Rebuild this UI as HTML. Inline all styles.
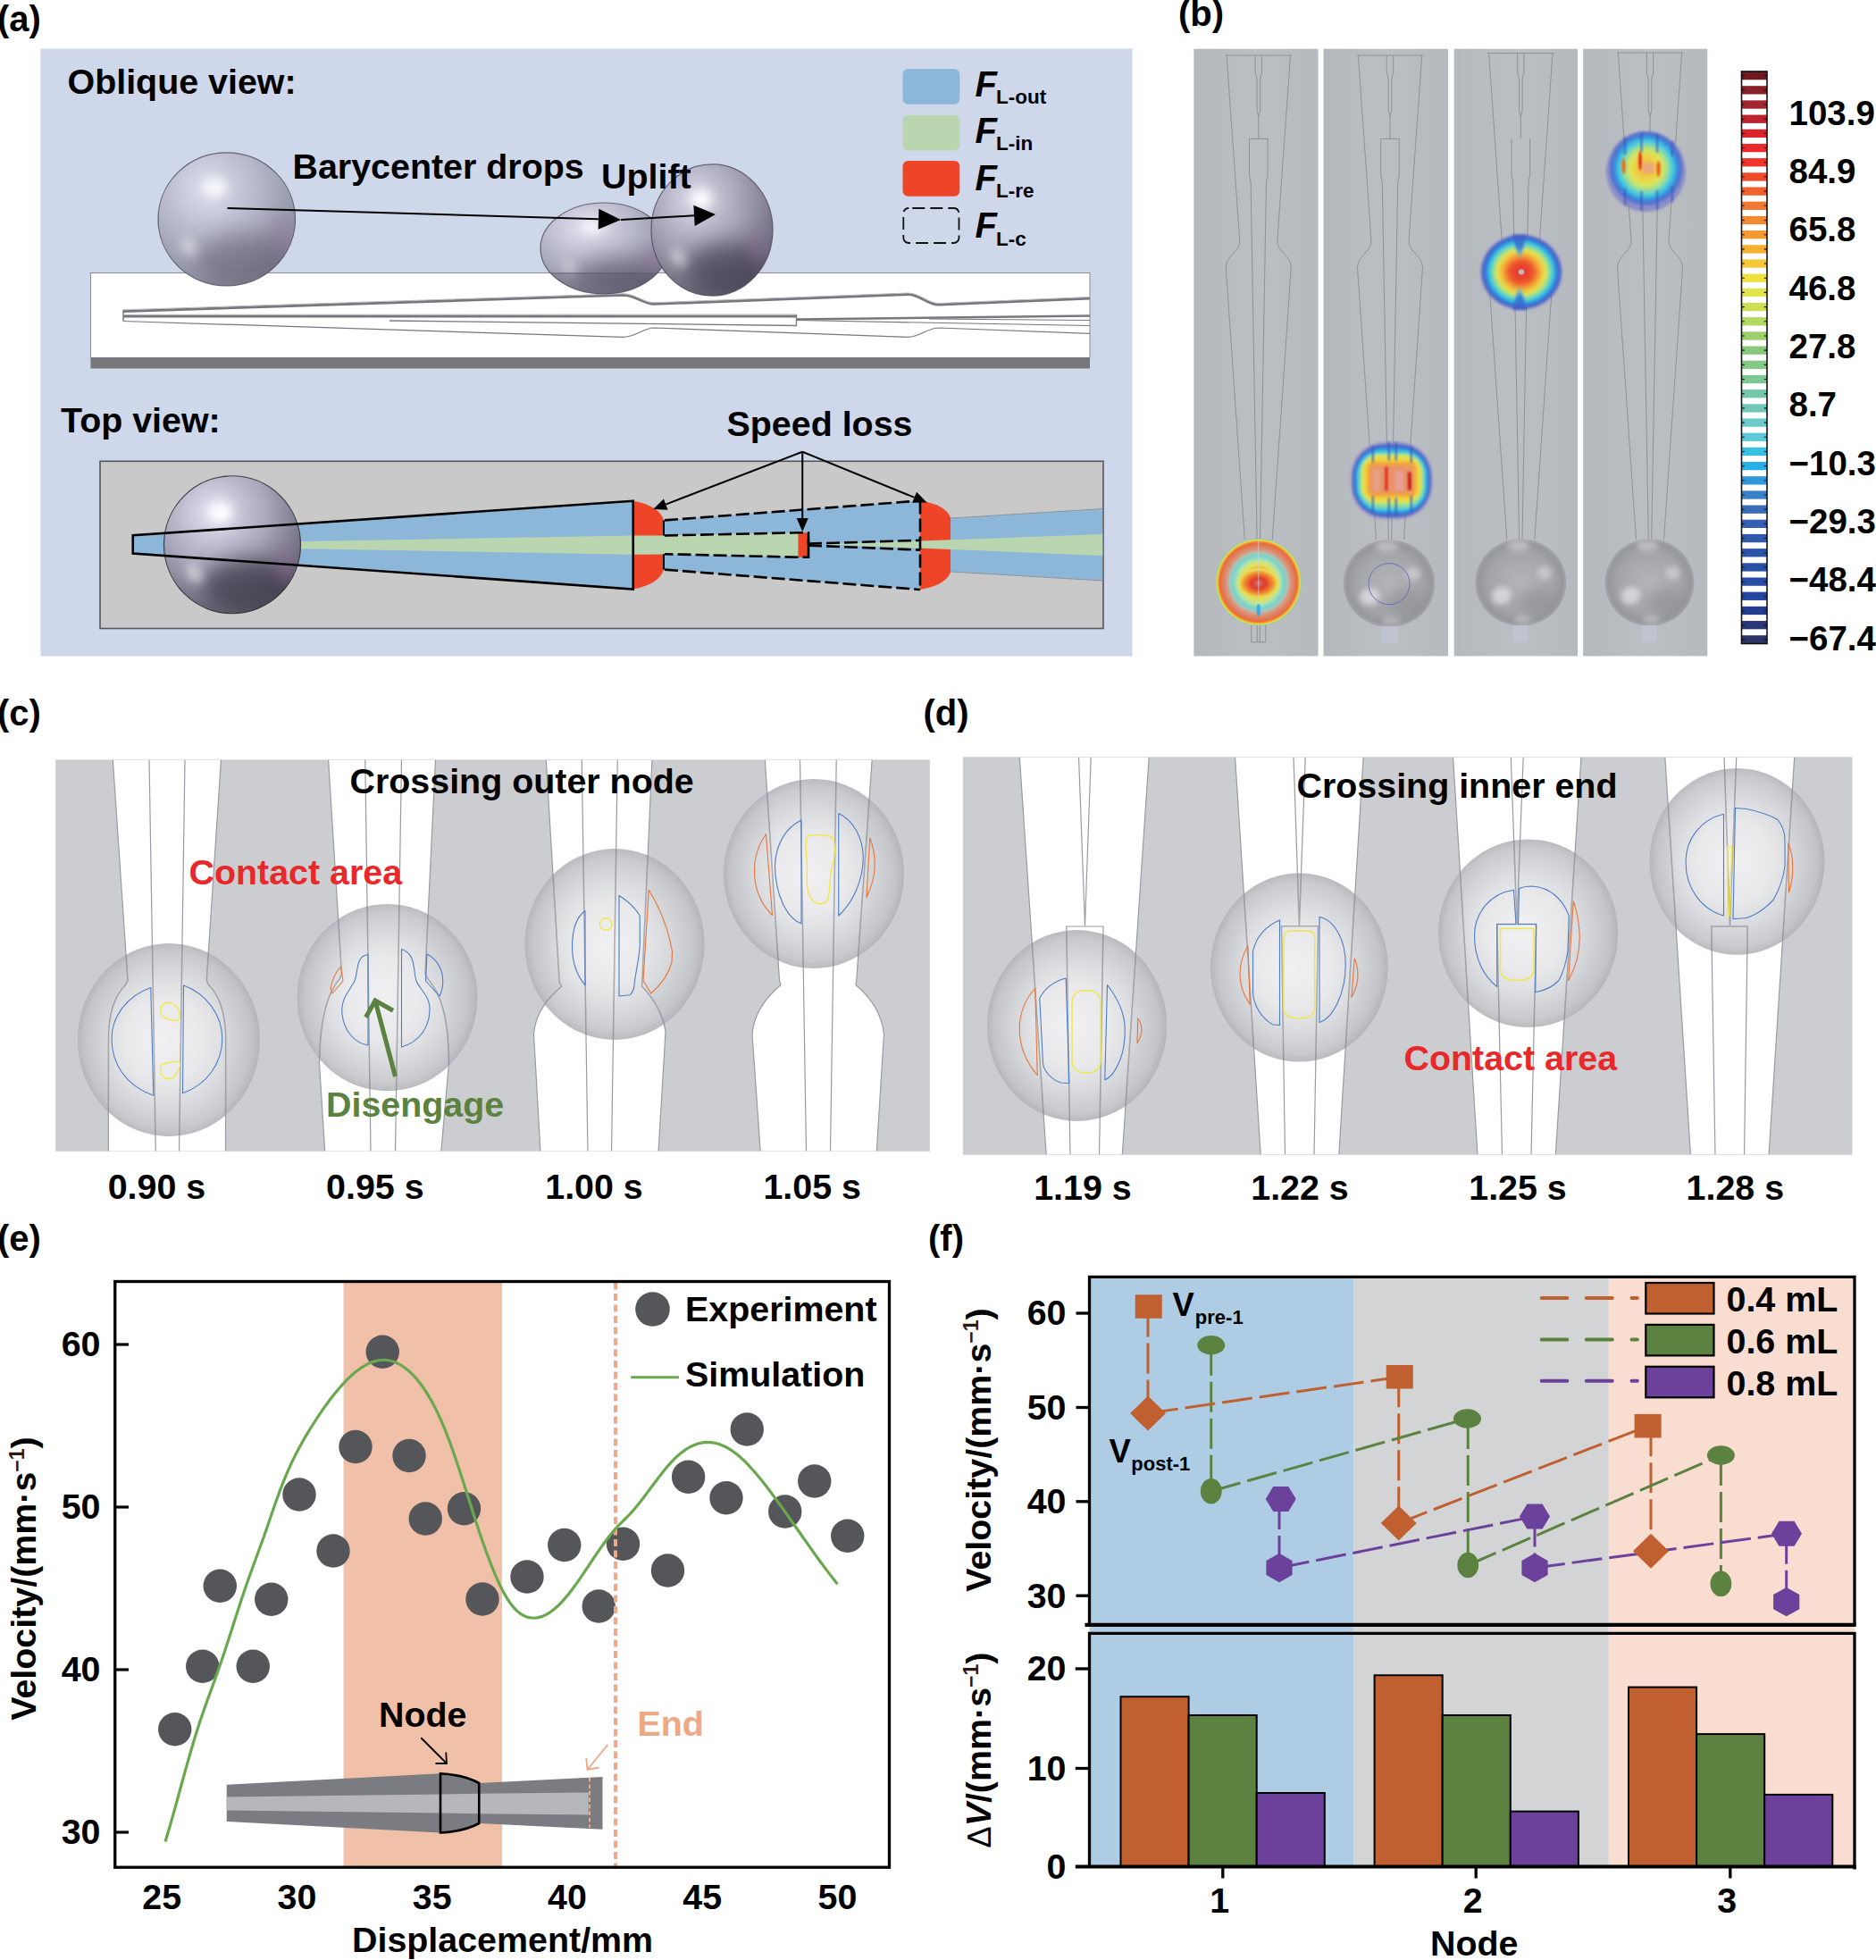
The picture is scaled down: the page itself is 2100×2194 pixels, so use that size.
<!DOCTYPE html>
<html><head><meta charset="utf-8"><title>Figure</title>
<style>
html,body{margin:0;padding:0;background:#fff;}
svg{display:block;}
text{font-family:"Liberation Sans",sans-serif;font-weight:bold;}
</style></head><body>
<svg width="2100" height="2194" viewBox="0 0 2100 2194">
<defs>
<filter id="blur1" x="-50%" y="-50%" width="200%" height="200%"><feGaussianBlur stdDeviation="1"/></filter>
<filter id="blur15" x="-20%" y="-20%" width="140%" height="140%"><feGaussianBlur stdDeviation="1.6"/></filter>
<filter id="blur3" x="-50%" y="-50%" width="200%" height="200%"><feGaussianBlur stdDeviation="3"/></filter>
<filter id="blur6" x="-100%" y="-100%" width="300%" height="300%"><feGaussianBlur stdDeviation="6"/></filter>
<filter id="blur8" x="-100%" y="-100%" width="300%" height="300%"><feGaussianBlur stdDeviation="8"/></filter>
<filter id="blur12" x="-100%" y="-100%" width="300%" height="300%"><feGaussianBlur stdDeviation="12"/></filter>
</defs>
<rect x="0" y="0" width="2100" height="2194" fill="#fff"/>
<g id="pa">
<rect x="45.5" y="54.5" width="1222" height="680.1" fill="#cfd8ea"/>
<text x="-3" y="34.7" font-size="40" text-anchor="start" fill="#000" >(a)</text>
<text x="75.5" y="104.5" font-size="39.4" text-anchor="start" fill="#000" >Oblique view:</text>
<text x="68" y="483.8" font-size="39.4" text-anchor="start" fill="#000" >Top view:</text>
<rect x="101.5" y="305.5" width="1118.5" height="95" fill="#fff" stroke="#8a8b90" stroke-width="1"/>
<rect x="101.5" y="400" width="1118.5" height="12.5" fill="#76777b"/>
<path d="M138 348.5 L697 330.3 C712 330.3 720 340.3 732 340.3 L1016.4 329.5 C1030 329.5 1038 341 1051 341 L1220 334" fill="none" stroke="#77787d" stroke-width="3"/>
<path d="M138 346.8 L697 328.8 C712 328.8 720 338.8 732 338.8 L1016.4 328 C1030 328 1038 339.5 1051 339.5 L1220 332.5" fill="none" stroke="#b9babd" stroke-width="1"/>
<path d="M138 347 V359.5" stroke="#77787d" stroke-width="1.5" fill="none"/>
<path d="M138 354 L891.5 354" stroke="#77787d" stroke-width="3" fill="none"/>
<path d="M138 352.3 L891.5 352" stroke="#b5b6ba" stroke-width="1" fill="none"/>
<path d="M436 359 L891.5 364.5 V352" stroke="#77787d" stroke-width="1.3" fill="none"/>
<path d="M891.5 357.5 L1220 353.5" stroke="#77787d" stroke-width="2.6" fill="none"/>
<path d="M891.5 358.5 L1220 364.5" stroke="#77787d" stroke-width="1.2" fill="none"/>
<path d="M1040 357 L1220 358.5" stroke="#77787d" stroke-width="1.2" fill="none"/>
<path d="M138 359.5 L697 377.4 C712 377.4 720 367 732 367 L1016 377.4 C1030 377.4 1038 367 1051 367 L1220 373.3" fill="none" stroke="#77787d" stroke-width="1.2"/>
<defs>
<radialGradient id="s1g" cx="0.38" cy="0.30" r="0.85" fx="0.36" fy="0.26"><stop offset="0" stop-color="#dfe0ee"/><stop offset="0.45" stop-color="#b4b5c8"/><stop offset="1" stop-color="#7d7d90"/></radialGradient>
<clipPath id="s1c"><ellipse cx="253.75" cy="245.4" rx="76.75" ry="74.6"/></clipPath>
</defs>
<ellipse cx="253.75" cy="245.4" rx="76.75" ry="74.6" fill="url(#s1g)"/>
<g clip-path="url(#s1c)">
<ellipse cx="272.94" cy="291.65" rx="53.72" ry="31.33" fill="#3c3846" opacity="0.35" filter="url(#blur12)"/>
<ellipse cx="313.62" cy="264.05" rx="13.81" ry="22.38" fill="#8a6c96" opacity="0.35" filter="url(#blur8)"/>
<ellipse cx="240.7" cy="210.34" rx="13.05" ry="11.19" fill="#fff" opacity="0.8" filter="url(#blur6)"/>
<ellipse cx="211.54" cy="276.73" rx="7.68" ry="11.94" fill="#fff" opacity="0.44" filter="url(#blur6)" transform="rotate(-35 211.54 276.73)"/>
</g>
<ellipse cx="253.75" cy="245.4" rx="76.75" ry="74.6" fill="none" stroke="#4a4a5a" stroke-width="1.2" opacity="0.8"/>
<defs>
<radialGradient id="s2g" cx="0.38" cy="0.30" r="0.85" fx="0.36" fy="0.26"><stop offset="0" stop-color="#e2e2f0"/><stop offset="0.45" stop-color="#b6b6c9"/><stop offset="1" stop-color="#77758a"/></radialGradient>
<clipPath id="s2c"><ellipse cx="676" cy="278" rx="71" ry="51"/></clipPath>
</defs>
<ellipse cx="676" cy="278" rx="71" ry="51" fill="url(#s2g)"/>
<g clip-path="url(#s2c)">
<ellipse cx="693.75" cy="309.62" rx="49.7" ry="21.42" fill="#3c3846" opacity="0.45" filter="url(#blur12)"/>
<ellipse cx="731.38" cy="290.75" rx="12.78" ry="15.3" fill="#8a6c96" opacity="0.35" filter="url(#blur8)"/>
<ellipse cx="663.93" cy="254.03" rx="12.07" ry="7.65" fill="#fff" opacity="0.75" filter="url(#blur6)"/>
<ellipse cx="636.95" cy="299.42" rx="7.1" ry="8.16" fill="#fff" opacity="0.41" filter="url(#blur6)" transform="rotate(-35 636.95 299.42)"/>
</g>
<ellipse cx="676" cy="278" rx="71" ry="51" fill="none" stroke="#4a4a5a" stroke-width="1.2" opacity="0.8"/>
<g clip-path="url(#s2c)"><rect x="600" y="305.8" width="150" height="30" fill="#4a4658" opacity="0.22"/><path d="M600 305.8 H750" stroke="#5d5b6c" stroke-width="1.2" opacity="0.75"/></g>
<defs>
<radialGradient id="s3g" cx="0.38" cy="0.30" r="0.85" fx="0.36" fy="0.26"><stop offset="0" stop-color="#dcdcec"/><stop offset="0.45" stop-color="#a3a2b5"/><stop offset="1" stop-color="#575365"/></radialGradient>
<clipPath id="s3c"><ellipse cx="797" cy="257.5" rx="68" ry="73.6"/></clipPath>
</defs>
<ellipse cx="797" cy="257.5" rx="68" ry="73.6" fill="url(#s3g)"/>
<g clip-path="url(#s3c)">
<ellipse cx="814" cy="303.13" rx="47.6" ry="30.91" fill="#3c3846" opacity="0.65" filter="url(#blur12)"/>
<ellipse cx="850.04" cy="275.9" rx="12.24" ry="22.08" fill="#8a6c96" opacity="0.35" filter="url(#blur8)"/>
<ellipse cx="785.44" cy="222.91" rx="11.56" ry="11.04" fill="#fff" opacity="0.95" filter="url(#blur6)"/>
<ellipse cx="759.6" cy="288.41" rx="6.8" ry="11.78" fill="#fff" opacity="0.52" filter="url(#blur6)" transform="rotate(-35 759.6 288.41)"/>
</g>
<ellipse cx="797" cy="257.5" rx="68" ry="73.6" fill="none" stroke="#4a4a5a" stroke-width="1.2" opacity="0.8"/>
<path d="M254.5 233 L670.01 245.26" stroke="#000" stroke-width="2" fill="none"/>
<polygon points="695,246 669.67,256.76 670.35,233.77" fill="#000"/>
<path d="M695 246 L777.04 241.36" stroke="#000" stroke-width="2" fill="none"/>
<polygon points="801,240 777.7,253.09 776.37,229.63" fill="#000"/>
<text x="327.5" y="199.5" font-size="39.4" text-anchor="start" fill="#000" >Barycenter drops</text>
<text x="673" y="210.5" font-size="39.4" text-anchor="start" fill="#000" >Uplift</text>
<rect x="1010.5" y="77" width="63.8" height="39.7" rx="6" fill="#8db7d9"/>
<rect x="1010.5" y="128.7" width="63.8" height="39.7" rx="6" fill="#b9d6b0"/>
<rect x="1010.5" y="180" width="63.8" height="39.7" rx="6" fill="#ee4529"/>
<rect x="1011.3" y="233" width="62.2" height="39" rx="6" fill="none" stroke="#111" stroke-width="1.8" stroke-dasharray="14 6" stroke-dashoffset="-4"/>
<text x="1091.5" y="107.5" font-size="40" font-style="italic">F<tspan font-style="normal" font-size="22.5" dx="-1" dy="8.3">L-out</tspan></text>
<text x="1091.5" y="159.7" font-size="40" font-style="italic">F<tspan font-style="normal" font-size="22.5" dx="-1" dy="8.3">L-in</tspan></text>
<text x="1091.5" y="212.5" font-size="40" font-style="italic">F<tspan font-style="normal" font-size="22.5" dx="-1" dy="8.3">L-re</tspan></text>
<text x="1091.5" y="266.2" font-size="40" font-style="italic">F<tspan font-style="normal" font-size="22.5" dx="-1" dy="8.3">L-c</tspan></text>
<rect x="112" y="516.3" width="1123" height="187.2" fill="#c9c9c9" stroke="#55565a" stroke-width="1.6"/>
<polygon points="148.75,599.25 708.75,560.75 708.75,659.5 148.75,619.5" fill="#8db7d9"/>
<polygon points="200,608.5 708.75,599.5 708.75,620.75 200,611.7" fill="#b9d6b0"/>
<path d="M708.75 560.75 Q738 566 743 582.5 L743 637.5 Q738 654 708.75 659.5 Z" fill="#ee4529"/>
<polygon points="706,599.5 744,599.5 744,620.4 706,620.75" fill="#b9d6b0"/>
<polygon points="743,582.5 1030,560.5 1030,660 743,637.5" fill="#8db7d9"/>
<polygon points="743,599.5 893.75,596.25 893.75,623.75 743,620.2" fill="#b9d6b0"/>
<rect x="893.5" y="596.25" width="11.5" height="27.5" fill="#ee4529"/>
<path d="M1030 560.5 Q1059 565 1064.25 580 L1064.25 640 Q1059 655 1030 660 Z" fill="#ee4529"/>
<polygon points="1064.25,580 1234.2,569.5 1234.2,650 1064.25,640" fill="#8db7d9"/>
<polygon points="922,609.3 1234.2,598 1234.2,622" fill="#b9d6b0"/>
<path d="M1064.25 580 L1234 569.5 M1064.25 640 L1234 650" stroke="#8a8a8a" stroke-width="0.8" fill="none"/>
<defs>
<radialGradient id="s4g" cx="0.38" cy="0.30" r="0.85" fx="0.36" fy="0.26"><stop offset="0" stop-color="#e4e4f4"/><stop offset="0.45" stop-color="#a9a8bc"/><stop offset="1" stop-color="#514c5c"/></radialGradient>
<clipPath id="s4c"><ellipse cx="260" cy="609.75" rx="76.5" ry="77"/></clipPath>
</defs>
<ellipse cx="260" cy="609.75" rx="76.5" ry="77" fill="url(#s4g)"/>
<g clip-path="url(#s4c)">
<ellipse cx="279.12" cy="657.49" rx="53.55" ry="32.34" fill="#3c3846" opacity="0.75" filter="url(#blur12)"/>
<ellipse cx="319.67" cy="629" rx="13.77" ry="23.1" fill="#8a6c96" opacity="0.35" filter="url(#blur8)"/>
<ellipse cx="247" cy="573.56" rx="13.01" ry="11.55" fill="#fff" opacity="1" filter="url(#blur6)"/>
<ellipse cx="217.93" cy="642.09" rx="7.65" ry="12.32" fill="#fff" opacity="0.55" filter="url(#blur6)" transform="rotate(-35 217.93 642.09)"/>
</g>
<ellipse cx="260" cy="609.75" rx="76.5" ry="77" fill="none" stroke="#222" stroke-width="1.2" opacity="0.8"/>
<path d="M708.75 560.75 L148.75 599.25 V619.5 L708.75 659.5 Z" fill="none" stroke="#000" stroke-width="2.6" stroke-linejoin="miter"/>
<path d="M744 582.4 L1030 560.5" stroke="#000" stroke-width="2.6" fill="none" stroke-dasharray="15 5"/>
<path d="M744 637.6 L1030 660" stroke="#000" stroke-width="2.6" fill="none" stroke-dasharray="15 5"/>
<path d="M1030 560.5 V660" stroke="#000" stroke-width="2.6" fill="none" stroke-dasharray="15 5"/>
<path d="M743 582.5 V599.5 M743 620.2 V637.5" stroke="#000" stroke-width="2" fill="none"/>
<path d="M744 599.5 L893.75 596.25 H905 V623.75 H893.75 L744 620.2" stroke="#000" stroke-width="2.6" fill="none" stroke-dasharray="15 5"/>
<path d="M905 608.6 L1030 604.8" stroke="#000" stroke-width="2.6" fill="none" stroke-dasharray="15 5"/>
<path d="M905 610.6 L1030 615.6" stroke="#000" stroke-width="2.6" fill="none" stroke-dasharray="15 5"/>
<path d="M905 603 V616" stroke="#000" stroke-width="2.6"/>
<text x="813.5" y="487.5" font-size="39.4" text-anchor="start" fill="#000" >Speed loss</text>
<path d="M898.25 505.75 L745.25 564.61" stroke="#000" stroke-width="2" fill="none"/>
<polygon points="731.25,570 742.92,558.55 747.58,570.68" fill="#000"/>
<path d="M898.25 505.75 L898.25 580" stroke="#000" stroke-width="2" fill="none"/>
<polygon points="898.25,595 891.75,580 904.75,580" fill="#000"/>
<path d="M898.25 505.75 L1023.61 556.84" stroke="#000" stroke-width="2" fill="none"/>
<polygon points="1037.5,562.5 1021.16,562.86 1026.06,550.82" fill="#000"/>
</g>
<g id="pb">
<text x="1319" y="29" font-size="40" text-anchor="start" fill="#000" >(b)</text>
<defs><linearGradient id="colg" x1="0" x2="1" y1="0" y2="0"><stop offset="0" stop-color="#b5b9be"/><stop offset="0.5" stop-color="#bbbec3"/><stop offset="1" stop-color="#b6babf"/></linearGradient></defs>
<rect x="1336.4" y="54.7" width="139.2" height="679.7" fill="url(#colg)"/>
<rect x="1481.5" y="54.7" width="139.5" height="679.7" fill="url(#colg)"/>
<rect x="1627.6" y="54.7" width="138.4" height="679.7" fill="url(#colg)"/>
<rect x="1772.2" y="54.7" width="139.1" height="679.7" fill="url(#colg)"/>
<path d="M1371.6 62 H1446 M1373.1 62 L1387.8 270 C1387.8 282 1372.3 286 1372.3 300 L1393.3 604 M1444.5 62 L1429.8 270 C1429.8 282 1445.3 286 1445.3 300 L1424.3 604" fill="none" stroke="#8b8c91" stroke-width="0.9"/>
<path d="M1405.1 62 V81 L1407 88 V124 L1408.8 130 V155 M1412.5 62 V81 L1410.6 88 V124 L1408.8 130" fill="none" stroke="#8b8c91" stroke-width="0.9"/>
<path d="M1398.5 196 V155.4 H1419.1 V196" fill="none" stroke="#8b8c91" stroke-width="0.9"/>
<path d="M1398.5 196 L1400.1 204 L1407.1 604 M1419.1 196 L1417.5 204 L1410.5 604" fill="none" stroke="#8b8c91" stroke-width="0.9"/>
<path d="M1400.8 700 V718.8 H1416.8 V700 M1407.3 700 V718.8 M1410.3 700 V718.8" fill="none" stroke="#8b8c91" stroke-width="0.9"/>
<defs><radialGradient id="b1g" cx="0.5" cy="0.5" r="0.5"><stop offset="0" stop-color="#d07070"/><stop offset="0.18" stop-color="#e8402a"/><stop offset="0.3" stop-color="#f09a30"/><stop offset="0.4" stop-color="#eee050"/><stop offset="0.5" stop-color="#b4e4a8"/><stop offset="0.6" stop-color="#78d4cc"/><stop offset="0.68" stop-color="#a8c4b8"/><stop offset="0.74" stop-color="#dc9880"/><stop offset="0.84" stop-color="#de7c5c"/><stop offset="0.9" stop-color="#ea6c38"/><stop offset="0.94" stop-color="#f2a238"/><stop offset="0.97" stop-color="#e6e04c"/><stop offset="1" stop-color="#74d4a4"/></radialGradient></defs>
<ellipse cx="1408.8" cy="651.7" rx="48" ry="48.7" fill="url(#b1g)"/>
<defs><radialGradient id="b1c" cx="0.5" cy="0.5" r="0.5"><stop offset="0" stop-color="#cf7a76"/><stop offset="0.3" stop-color="#e23a2c"/><stop offset="0.6" stop-color="#ee8a30"/><stop offset="0.82" stop-color="#ecdc50"/><stop offset="1" stop-color="#b4e4a8" stop-opacity="0"/></radialGradient></defs>
<ellipse cx="1408.8" cy="653" rx="26" ry="19" fill="url(#b1c)"/>
<path d="M1408.8 604 V668" stroke="#cfd0d4" stroke-width="1" opacity="0.7"/>
<ellipse cx="1408.8" cy="683" rx="2.2" ry="7" fill="#30a8e8" opacity="0.9"/>
<path d="M1518.8 62 H1593.2 M1520.3 62 L1535 270 C1535 282 1519.5 286 1519.5 300 L1540.5 604 M1591.7 62 L1577 270 C1577 282 1592.5 286 1592.5 300 L1571.5 604" fill="none" stroke="#8b8c91" stroke-width="0.9"/>
<path d="M1552.3 62 V81 L1554.2 88 V124 L1556 130 V155 M1559.7 62 V81 L1557.8 88 V124 L1556 130" fill="none" stroke="#8b8c91" stroke-width="0.9"/>
<path d="M1545.7 196 V155.4 H1566.3 V196" fill="none" stroke="#8b8c91" stroke-width="0.9"/>
<path d="M1545.7 196 L1547.3 204 L1554.3 604 M1566.3 196 L1564.7 204 L1557.7 604" fill="none" stroke="#8b8c91" stroke-width="0.9"/>
<g filter="url(#blur15)">
<rect x="1511.8" y="494.5" width="92" height="87" rx="38" ry="38" fill="#8886cc" opacity="0.55"/>
<rect x="1513.8" y="497" width="88" height="82" rx="36" ry="36" fill="#4a5cc4" opacity="0.9"/>
<rect x="1516.3" y="500.5" width="83" height="75" rx="32" ry="32" fill="#2e86dc" opacity="1"/>
<rect x="1518.8" y="503.5" width="78" height="69" rx="28" ry="28" fill="#36c4e4" opacity="1"/>
<rect x="1521.3" y="507" width="73" height="62" rx="24" ry="24" fill="#86dca0" opacity="1"/>
<rect x="1523.8" y="509" width="68" height="55" rx="19" ry="19" fill="#d8e458" opacity="1"/>
<rect x="1526.8" y="513" width="62" height="47" rx="13" ry="13" fill="#f2d040" opacity="1"/>
<rect x="1530.3" y="517" width="55" height="39" rx="7" ry="7" fill="#f2a638" opacity="1"/>
<rect x="1533.8" y="521" width="48" height="31" rx="4" ry="4" fill="#e89468" opacity="1"/>
</g>
<g filter="url(#blur1)">
<rect x="1550.3" y="522.5" width="3.2" height="27" fill="#e02a1c"/>
<rect x="1575.8" y="528.5" width="4" height="20" fill="#c8201a"/>
<rect x="1561.8" y="527.5" width="9" height="22" fill="#eba0a0" opacity="0.8"/>
<rect x="1536.8" y="525.5" width="8" height="24" fill="#e8a88c" opacity="0.7"/>
</g>
<defs><radialGradient id="g2g" cx="0.5" cy="0.5" r="0.5"><stop offset="0" stop-color="#b4b5b8"/><stop offset="0.7" stop-color="#a4a5a9"/><stop offset="0.92" stop-color="#97989c"/><stop offset="1" stop-color="#a6a7ab"/></radialGradient><clipPath id="g2c"><ellipse cx="1555" cy="653" rx="51.4" ry="49"/></clipPath></defs>
<ellipse cx="1555" cy="653" rx="51.4" ry="49" fill="url(#g2g)"/>
<g clip-path="url(#g2c)">
<ellipse cx="1533.41" cy="667.7" rx="11.31" ry="9.8" fill="#dcdcdf" opacity="0.85" filter="url(#blur3)" transform="rotate(-20 1533.41 667.7)"/>
<ellipse cx="1581.73" cy="642.22" rx="8.22" ry="7.84" fill="#d0d0d4" opacity="0.8" filter="url(#blur3)"/>
<ellipse cx="1552.43" cy="611.35" rx="12.85" ry="5.88" fill="#c8c8cc" opacity="0.8" filter="url(#blur3)"/>
<ellipse cx="1557.57" cy="694.65" rx="10.28" ry="4.9" fill="#c4c4c8" opacity="0.7" filter="url(#blur3)"/>
<ellipse cx="1572.99" cy="675.05" rx="20.56" ry="14.7" fill="#88898d" opacity="0.45" filter="url(#blur6)"/>
</g>
<circle cx="1555" cy="653.6" r="23" fill="none" stroke="#6a6cc4" stroke-width="1"/>
<rect x="1546" y="701" width="19" height="19.5" fill="#c0c6d2" opacity="0.8"/>
<path d="M1665.1 59.5 H1739.5 M1666.6 59.5 L1681.3 270 C1681.3 282 1665.8 286 1665.8 300 L1686.8 604 M1738 59.5 L1723.3 270 C1723.3 282 1738.8 286 1738.8 300 L1717.8 604" fill="none" stroke="#8b8c91" stroke-width="0.9"/>
<path d="M1698.6 59.5 V81 L1700.5 88 V124 L1702.3 130 V155 M1706 59.5 V81 L1704.1 88 V124 L1702.3 130" fill="none" stroke="#8b8c91" stroke-width="0.9"/>
<path d="M1692 196 V155.4 M1712.6 155.4 V196" fill="none" stroke="#8b8c91" stroke-width="0.9"/>
<path d="M1692 196 L1693.6 204 L1700.6 604 M1712.6 196 L1711 204 L1704 604" fill="none" stroke="#8b8c91" stroke-width="0.9"/>
<defs><radialGradient id="b3g" cx="0.5" cy="0.5" r="0.5"><stop offset="0" stop-color="#d88a8a"/><stop offset="0.1" stop-color="#e23a30"/><stop offset="0.3" stop-color="#ee5a2c"/><stop offset="0.44" stop-color="#f4a838"/><stop offset="0.58" stop-color="#e6e44c"/><stop offset="0.68" stop-color="#8ede98"/><stop offset="0.78" stop-color="#34c4e6"/><stop offset="0.87" stop-color="#3078d8"/><stop offset="0.95" stop-color="#5060c4"/><stop offset="1" stop-color="#8c8acc" stop-opacity="0.5"/></radialGradient><linearGradient id="b3n" x1="0" x2="0" y1="0" y2="1"><stop offset="0" stop-color="#4458c0"/><stop offset="0.55" stop-color="#2e86dc"/><stop offset="1" stop-color="#38c8e4" stop-opacity="0"/></linearGradient><linearGradient id="b3m" x1="0" x2="0" y1="1" y2="0"><stop offset="0" stop-color="#4458c0"/><stop offset="0.55" stop-color="#2e86dc"/><stop offset="1" stop-color="#38c8e4" stop-opacity="0"/></linearGradient></defs>
<g filter="url(#blur15)">
<ellipse cx="1703" cy="304.5" rx="46" ry="42.5" fill="url(#b3g)"/>
<polygon points="1693,262.5 1709,262.5 1702.5,290.5 1699.5,290.5" fill="url(#b3n)"/>
<polygon points="1693,347 1709,347 1702.5,319.5 1699.5,319.5" fill="url(#b3m)"/>
</g>
<circle cx="1703" cy="304.5" r="3" fill="#c8c8d0" opacity="0.8"/>
<defs><radialGradient id="g3g" cx="0.5" cy="0.5" r="0.5"><stop offset="0" stop-color="#b4b5b8"/><stop offset="0.7" stop-color="#a4a5a9"/><stop offset="0.92" stop-color="#97989c"/><stop offset="1" stop-color="#a6a7ab"/></radialGradient><clipPath id="g3c"><ellipse cx="1702.3" cy="652" rx="51" ry="48.7"/></clipPath></defs>
<ellipse cx="1702.3" cy="652" rx="51" ry="48.7" fill="url(#g3g)"/>
<g clip-path="url(#g3c)">
<ellipse cx="1680.88" cy="666.61" rx="11.22" ry="9.74" fill="#dcdcdf" opacity="0.85" filter="url(#blur3)" transform="rotate(-20 1680.88 666.61)"/>
<ellipse cx="1728.82" cy="641.29" rx="8.16" ry="7.79" fill="#d0d0d4" opacity="0.8" filter="url(#blur3)"/>
<ellipse cx="1699.75" cy="610.61" rx="12.75" ry="5.84" fill="#c8c8cc" opacity="0.8" filter="url(#blur3)"/>
<ellipse cx="1704.85" cy="693.39" rx="10.2" ry="4.87" fill="#c4c4c8" opacity="0.7" filter="url(#blur3)"/>
<ellipse cx="1720.15" cy="673.91" rx="20.4" ry="14.61" fill="#88898d" opacity="0.45" filter="url(#blur6)"/>
</g>
<rect x="1693.5" y="700" width="17" height="19" fill="#c0c6d2" opacity="0.8"/>
<path d="M1809.8 59 H1884.2 M1811.3 59 L1826 270 C1826 282 1810.5 286 1810.5 300 L1831.5 604 M1882.7 59 L1868 270 C1868 282 1883.5 286 1883.5 300 L1862.5 604" fill="none" stroke="#8b8c91" stroke-width="0.9"/>
<path d="M1843.3 59 V81 L1845.2 88 V124 L1847 130 V155 M1850.7 59 V81 L1848.8 88 V124 L1847 130" fill="none" stroke="#8b8c91" stroke-width="0.9"/>
<path d="M1836.7 196 V155.4 M1857.3 155.4 V196" fill="none" stroke="#8b8c91" stroke-width="0.9"/>
<path d="M1836.7 196 L1838.3 204 L1845.3 604 M1857.3 196 L1855.7 204 L1848.7 604" fill="none" stroke="#8b8c91" stroke-width="0.9"/>
<defs><radialGradient id="b4g" cx="0.5" cy="0.46" r="0.5"><stop offset="0" stop-color="#f0b048"/><stop offset="0.24" stop-color="#f0cc44"/><stop offset="0.42" stop-color="#dce458"/><stop offset="0.56" stop-color="#92dea0"/><stop offset="0.69" stop-color="#3cc6e6"/><stop offset="0.81" stop-color="#3a82d8"/><stop offset="0.89" stop-color="#5a6cc8"/><stop offset="0.95" stop-color="#8a8ed0" stop-opacity="0.9"/><stop offset="1" stop-color="#7a7cc4" stop-opacity="0.75"/></radialGradient></defs>
<g filter="url(#blur15)">
<ellipse cx="1842.5" cy="192" rx="44.5" ry="45" fill="url(#b4g)"/>
</g>
<g filter="url(#blur1)">
<ellipse cx="1836" cy="180" rx="1.8" ry="11" fill="#e02818"/>
<ellipse cx="1817.5" cy="186" rx="2.2" ry="9" fill="#e86a20"/>
<ellipse cx="1856.5" cy="189" rx="2.2" ry="9" fill="#e8601e"/>
<rect x="1839.5" y="182" width="12" height="12" fill="#e8a090" opacity="0.7"/>
</g>
<defs><radialGradient id="g4g" cx="0.5" cy="0.5" r="0.5"><stop offset="0" stop-color="#b4b5b8"/><stop offset="0.7" stop-color="#a4a5a9"/><stop offset="0.92" stop-color="#97989c"/><stop offset="1" stop-color="#a6a7ab"/></radialGradient><clipPath id="g4c"><ellipse cx="1846.5" cy="652" rx="50" ry="48.7"/></clipPath></defs>
<ellipse cx="1846.5" cy="652" rx="50" ry="48.7" fill="url(#g4g)"/>
<g clip-path="url(#g4c)">
<ellipse cx="1825.5" cy="666.61" rx="11" ry="9.74" fill="#dcdcdf" opacity="0.85" filter="url(#blur3)" transform="rotate(-20 1825.5 666.61)"/>
<ellipse cx="1872.5" cy="641.29" rx="8" ry="7.79" fill="#d0d0d4" opacity="0.8" filter="url(#blur3)"/>
<ellipse cx="1844" cy="610.61" rx="12.5" ry="5.84" fill="#c8c8cc" opacity="0.8" filter="url(#blur3)"/>
<ellipse cx="1849" cy="693.39" rx="10" ry="4.87" fill="#c4c4c8" opacity="0.7" filter="url(#blur3)"/>
<ellipse cx="1864" cy="673.91" rx="20" ry="14.61" fill="#88898d" opacity="0.45" filter="url(#blur6)"/>
</g>
<rect x="1838" y="700" width="17" height="19" fill="#c0c6d2" opacity="0.8"/>
<rect x="1535.6" y="499.13" width="2.4" height="18.68" fill="#3a54bc" opacity="0.7" filter="url(#blur1)"/>
<rect x="1535.6" y="555.18" width="2.4" height="18.68" fill="#3a54bc" opacity="0.7" filter="url(#blur1)"/>
<rect x="1553.6" y="494.59" width="2.4" height="20.96" fill="#3a54bc" opacity="0.7" filter="url(#blur1)"/>
<rect x="1553.6" y="557.46" width="2.4" height="20.96" fill="#3a54bc" opacity="0.7" filter="url(#blur1)"/>
<rect x="1561.6" y="494.75" width="2.4" height="20.88" fill="#3a54bc" opacity="0.7" filter="url(#blur1)"/>
<rect x="1561.6" y="557.38" width="2.4" height="20.88" fill="#3a54bc" opacity="0.7" filter="url(#blur1)"/>
<rect x="1578.6" y="499.61" width="2.4" height="18.44" fill="#3a54bc" opacity="0.7" filter="url(#blur1)"/>
<rect x="1578.6" y="554.94" width="2.4" height="18.44" fill="#3a54bc" opacity="0.7" filter="url(#blur1)"/>
<rect x="1817.8" y="154.18" width="2.4" height="18.91" fill="#3a54bc" opacity="0.7" filter="url(#blur1)"/>
<rect x="1817.8" y="210.91" width="2.4" height="18.91" fill="#3a54bc" opacity="0.7" filter="url(#blur1)"/>
<rect x="1836.3" y="148.26" width="2.4" height="21.87" fill="#3a54bc" opacity="0.7" filter="url(#blur1)"/>
<rect x="1836.3" y="213.87" width="2.4" height="21.87" fill="#3a54bc" opacity="0.7" filter="url(#blur1)"/>
<rect x="1853.8" y="149.66" width="2.4" height="21.17" fill="#3a54bc" opacity="0.7" filter="url(#blur1)"/>
<rect x="1853.8" y="213.17" width="2.4" height="21.17" fill="#3a54bc" opacity="0.7" filter="url(#blur1)"/>
<rect x="1870.8" y="158.24" width="2.4" height="16.88" fill="#3a54bc" opacity="0.7" filter="url(#blur1)"/>
<rect x="1870.8" y="208.88" width="2.4" height="16.88" fill="#3a54bc" opacity="0.7" filter="url(#blur1)"/>
<rect x="1949.5" y="80" width="28.5" height="640.5" fill="#fff"/>
<rect x="1949.5" y="80" width="28.5" height="9.3" fill="#6e1a20"/>
<rect x="1949.5" y="96.18" width="28.5" height="9.3" fill="#882028"/>
<rect x="1949.5" y="112.37" width="28.5" height="9.3" fill="#a22430"/>
<rect x="1949.5" y="128.55" width="28.5" height="9.3" fill="#bd222e"/>
<rect x="1949.5" y="144.74" width="28.5" height="9.3" fill="#dc222a"/>
<rect x="1949.5" y="160.92" width="28.5" height="9.3" fill="#ea2a2a"/>
<rect x="1949.5" y="177.11" width="28.5" height="9.3" fill="#ee3328"/>
<rect x="1949.5" y="193.29" width="28.5" height="9.3" fill="#ef4a2a"/>
<rect x="1949.5" y="209.48" width="28.5" height="9.3" fill="#f0602c"/>
<rect x="1949.5" y="225.66" width="28.5" height="9.3" fill="#f07830"/>
<rect x="1949.5" y="241.85" width="28.5" height="9.3" fill="#f28a30"/>
<rect x="1949.5" y="258.03" width="28.5" height="9.3" fill="#f59a2e"/>
<rect x="1949.5" y="274.22" width="28.5" height="9.3" fill="#f5b030"/>
<rect x="1949.5" y="290.4" width="28.5" height="9.3" fill="#f4c838"/>
<rect x="1949.5" y="306.58" width="28.5" height="9.3" fill="#f0e040"/>
<rect x="1949.5" y="322.77" width="28.5" height="9.3" fill="#e2e44c"/>
<rect x="1949.5" y="338.95" width="28.5" height="9.3" fill="#cde054"/>
<rect x="1949.5" y="355.14" width="28.5" height="9.3" fill="#b4d860"/>
<rect x="1949.5" y="371.32" width="28.5" height="9.3" fill="#9ccf6c"/>
<rect x="1949.5" y="387.51" width="28.5" height="9.3" fill="#88c87c"/>
<rect x="1949.5" y="403.69" width="28.5" height="9.3" fill="#86c888"/>
<rect x="1949.5" y="419.88" width="28.5" height="9.3" fill="#7cc794"/>
<rect x="1949.5" y="436.06" width="28.5" height="9.3" fill="#74c7a8"/>
<rect x="1949.5" y="452.25" width="28.5" height="9.3" fill="#70c8b8"/>
<rect x="1949.5" y="468.43" width="28.5" height="9.3" fill="#6ccaca"/>
<rect x="1949.5" y="484.62" width="28.5" height="9.3" fill="#5cc8d8"/>
<rect x="1949.5" y="500.8" width="28.5" height="9.3" fill="#38c0e4"/>
<rect x="1949.5" y="516.98" width="28.5" height="9.3" fill="#28b0e8"/>
<rect x="1949.5" y="533.17" width="28.5" height="9.3" fill="#3098d8"/>
<rect x="1949.5" y="549.35" width="28.5" height="9.3" fill="#3a80c8"/>
<rect x="1949.5" y="565.54" width="28.5" height="9.3" fill="#3a6cb8"/>
<rect x="1949.5" y="581.72" width="28.5" height="9.3" fill="#3460b0"/>
<rect x="1949.5" y="597.91" width="28.5" height="9.3" fill="#305aac"/>
<rect x="1949.5" y="614.09" width="28.5" height="9.3" fill="#2c54a8"/>
<rect x="1949.5" y="630.28" width="28.5" height="9.3" fill="#2a50a4"/>
<rect x="1949.5" y="646.46" width="28.5" height="9.3" fill="#2a4ca4"/>
<rect x="1949.5" y="662.65" width="28.5" height="9.3" fill="#2446a0"/>
<rect x="1949.5" y="678.83" width="28.5" height="9.3" fill="#243c90"/>
<rect x="1949.5" y="695.02" width="28.5" height="9.3" fill="#2c3878"/>
<rect x="1949.5" y="711.2" width="28.5" height="9.3" fill="#2e3468"/>
<path d="M1949.5 84.65 h3.2 M1978 84.65 h-3.2 M1949.5 100.83 h3.2 M1978 100.83 h-3.2 M1949.5 117.02 h3.2 M1978 117.02 h-3.2 M1949.5 133.2 h3.2 M1978 133.2 h-3.2 M1949.5 149.39 h3.2 M1978 149.39 h-3.2 M1949.5 165.57 h3.2 M1978 165.57 h-3.2 M1949.5 181.76 h3.2 M1978 181.76 h-3.2 M1949.5 197.94 h3.2 M1978 197.94 h-3.2 M1949.5 214.13 h3.2 M1978 214.13 h-3.2 M1949.5 230.31 h3.2 M1978 230.31 h-3.2 M1949.5 246.5 h3.2 M1978 246.5 h-3.2 M1949.5 262.68 h3.2 M1978 262.68 h-3.2 M1949.5 278.87 h3.2 M1978 278.87 h-3.2 M1949.5 295.05 h3.2 M1978 295.05 h-3.2 M1949.5 311.23 h3.2 M1978 311.23 h-3.2 M1949.5 327.42 h3.2 M1978 327.42 h-3.2 M1949.5 343.6 h3.2 M1978 343.6 h-3.2 M1949.5 359.79 h3.2 M1978 359.79 h-3.2 M1949.5 375.97 h3.2 M1978 375.97 h-3.2 M1949.5 392.16 h3.2 M1978 392.16 h-3.2 M1949.5 408.34 h3.2 M1978 408.34 h-3.2 M1949.5 424.53 h3.2 M1978 424.53 h-3.2 M1949.5 440.71 h3.2 M1978 440.71 h-3.2 M1949.5 456.9 h3.2 M1978 456.9 h-3.2 M1949.5 473.08 h3.2 M1978 473.08 h-3.2 M1949.5 489.27 h3.2 M1978 489.27 h-3.2 M1949.5 505.45 h3.2 M1978 505.45 h-3.2 M1949.5 521.63 h3.2 M1978 521.63 h-3.2 M1949.5 537.82 h3.2 M1978 537.82 h-3.2 M1949.5 554 h3.2 M1978 554 h-3.2 M1949.5 570.19 h3.2 M1978 570.19 h-3.2 M1949.5 586.37 h3.2 M1978 586.37 h-3.2 M1949.5 602.56 h3.2 M1978 602.56 h-3.2 M1949.5 618.74 h3.2 M1978 618.74 h-3.2 M1949.5 634.93 h3.2 M1978 634.93 h-3.2 M1949.5 651.11 h3.2 M1978 651.11 h-3.2 M1949.5 667.3 h3.2 M1978 667.3 h-3.2 M1949.5 683.48 h3.2 M1978 683.48 h-3.2 M1949.5 699.67 h3.2 M1978 699.67 h-3.2 M1949.5 715.85 h3.2 M1978 715.85 h-3.2" stroke="#111" stroke-width="1.1" fill="none"/>
<rect x="1949.5" y="80" width="28.5" height="640.5" fill="none" stroke="#111" stroke-width="1.6"/>
<text x="2002.5" y="139.8" font-size="38.5" text-anchor="start" fill="#000" >103.9</text>
<text x="2002.5" y="205.12" font-size="38.5" text-anchor="start" fill="#000" >84.9</text>
<text x="2002.5" y="270.44" font-size="38.5" text-anchor="start" fill="#000" >65.8</text>
<text x="2002.5" y="335.76" font-size="38.5" text-anchor="start" fill="#000" >46.8</text>
<text x="2002.5" y="401.08" font-size="38.5" text-anchor="start" fill="#000" >27.8</text>
<text x="2002.5" y="466.4" font-size="38.5" text-anchor="start" fill="#000" >8.7</text>
<text x="2002.5" y="531.72" font-size="38.5" text-anchor="start" fill="#000" >−10.3</text>
<text x="2002.5" y="597.04" font-size="38.5" text-anchor="start" fill="#000" >−29.3</text>
<text x="2002.5" y="662.36" font-size="38.5" text-anchor="start" fill="#000" >−48.4</text>
<text x="2002.5" y="727.68" font-size="38.5" text-anchor="start" fill="#000" >−67.4</text>
</g>
<g id="pc">
<text x="-3" y="812.4" font-size="40" text-anchor="start" fill="#000" >(c)</text>
<defs><clipPath id="cclip"><rect x="62.2" y="850.6" width="978.6" height="438.2"/></clipPath></defs>
<rect x="62.2" y="850.6" width="978.6" height="438.2" fill="#cccdd0"/>
<g clip-path="url(#cclip)">
<path d="M126.25 849.6 L143 1097.5 L140 1103 C128 1115 122 1135 121.5 1160 L121.25 1289.8 L252.5 1289.8 L252.7 1160 C252 1135 246 1115 234 1103 L231.25 1097.5 L247.5 849.6 Z" fill="#fff" stroke="#9a9ba1" stroke-width="1.2"/>
<path d="M167 849.6 L174.25 1289.8" stroke="#9a9ba1" stroke-width="1.2" fill="none"/>
<path d="M207 849.6 L200.5 1289.8" stroke="#9a9ba1" stroke-width="1.2" fill="none"/>
<path d="M367.5 849.6 L382.5 1090 L380 1096 C366 1112 358 1140 357.5 1190 L363.75 1289.8 L493.75 1289.8 L502.5 1190 C502 1140 494 1112 479 1096 L476 1090 L487.5 849.6 Z" fill="#fff" stroke="#9a9ba1" stroke-width="1.2"/>
<path d="M408.75 849.6 L415 1289.8" stroke="#9a9ba1" stroke-width="1.2" fill="none"/>
<path d="M449.5 849.6 L442.5 1289.8" stroke="#9a9ba1" stroke-width="1.2" fill="none"/>
<path d="M611.25 849.6 L626.25 1100 L628.75 1104 C612 1118 599 1136 597.5 1157.5 L605 1289.8 L737 1289.8 L745 1155 C742 1134 730 1116 718.5 1104 L718.75 1100 L730 849.6 Z" fill="#fff" stroke="#9a9ba1" stroke-width="1.2"/>
<path d="M651.25 849.6 L658 1289.8" stroke="#9a9ba1" stroke-width="1.2" fill="none"/>
<path d="M691.25 849.6 L684.5 1289.8" stroke="#9a9ba1" stroke-width="1.2" fill="none"/>
<path d="M856.25 849.6 L872.5 1097.5 L874 1102.5 C858 1116 844 1134 842 1157.5 L851.25 1289.8 L981.25 1289.8 L989.5 1157.5 C987 1134 974 1116 958 1102.5 L958.75 1097.5 L976.25 849.6 Z" fill="#fff" stroke="#9a9ba1" stroke-width="1.2"/>
<path d="M895.5 849.6 L902.5 1289.8" stroke="#9a9ba1" stroke-width="1.2" fill="none"/>
<path d="M936.25 849.6 L929.5 1289.8" stroke="#9a9ba1" stroke-width="1.2" fill="none"/>
<defs><radialGradient id="c1g" gradientUnits="userSpaceOnUse" cx="189" cy="1164" r="106.08" fx="180.84" fy="1164" gradientTransform="translate(189 1164) scale(1 1.06) translate(-189 -1164)"><stop offset="0" stop-color="#efeff1"/><stop offset="0.4" stop-color="#e7e7ea"/><stop offset="0.6" stop-color="#dadbde"/><stop offset="0.76" stop-color="#cdced2"/><stop offset="0.88" stop-color="#c3c4c8"/><stop offset="0.96" stop-color="#b3b4b9"/><stop offset="1" stop-color="#a4a5ab"/></radialGradient><clipPath id="c1k"><path d="M291 1164 L290.61 1173.41 L289.45 1182.75 L287.52 1191.95 L284.85 1200.94 L281.44 1209.64 L277.33 1218 L272.55 1225.95 L267.14 1233.42 L261.12 1240.37 L254.56 1246.73 L247.5 1252.47 L240 1257.53 L232.11 1261.88 L223.89 1265.49 L215.4 1268.32 L206.71 1270.36 L197.89 1271.59 L189 1272 L180.11 1271.59 L171.29 1270.36 L162.6 1268.32 L154.11 1265.49 L145.89 1261.88 L138 1257.53 L130.5 1252.47 L123.44 1246.73 L116.88 1240.37 L110.86 1233.42 L105.45 1225.95 L100.67 1218 L96.56 1209.64 L93.15 1200.94 L90.48 1191.95 L88.55 1182.75 L87.39 1173.41 L87 1164 L87.39 1154.59 L88.55 1145.25 L90.48 1136.05 L93.15 1127.06 L96.56 1118.36 L100.67 1110 L105.45 1102.05 L110.86 1094.58 L116.88 1087.63 L123.44 1081.27 L130.5 1075.53 L138 1070.47 L145.89 1066.12 L154.11 1062.51 L162.6 1059.68 L171.29 1057.64 L180.11 1056.41 L189 1056 L197.89 1056.41 L206.71 1057.64 L215.4 1059.68 L223.89 1062.51 L232.11 1066.12 L240 1070.47 L247.5 1075.53 L254.56 1081.27 L261.12 1087.63 L267.14 1094.58 L272.55 1102.05 L277.33 1110 L281.44 1118.36 L284.85 1127.06 L287.52 1136.05 L289.45 1145.25 L290.61 1154.59Z"/></clipPath></defs>
<path d="M291 1164 L290.61 1173.41 L289.45 1182.75 L287.52 1191.95 L284.85 1200.94 L281.44 1209.64 L277.33 1218 L272.55 1225.95 L267.14 1233.42 L261.12 1240.37 L254.56 1246.73 L247.5 1252.47 L240 1257.53 L232.11 1261.88 L223.89 1265.49 L215.4 1268.32 L206.71 1270.36 L197.89 1271.59 L189 1272 L180.11 1271.59 L171.29 1270.36 L162.6 1268.32 L154.11 1265.49 L145.89 1261.88 L138 1257.53 L130.5 1252.47 L123.44 1246.73 L116.88 1240.37 L110.86 1233.42 L105.45 1225.95 L100.67 1218 L96.56 1209.64 L93.15 1200.94 L90.48 1191.95 L88.55 1182.75 L87.39 1173.41 L87 1164 L87.39 1154.59 L88.55 1145.25 L90.48 1136.05 L93.15 1127.06 L96.56 1118.36 L100.67 1110 L105.45 1102.05 L110.86 1094.58 L116.88 1087.63 L123.44 1081.27 L130.5 1075.53 L138 1070.47 L145.89 1066.12 L154.11 1062.51 L162.6 1059.68 L171.29 1057.64 L180.11 1056.41 L189 1056 L197.89 1056.41 L206.71 1057.64 L215.4 1059.68 L223.89 1062.51 L232.11 1066.12 L240 1070.47 L247.5 1075.53 L254.56 1081.27 L261.12 1087.63 L267.14 1094.58 L272.55 1102.05 L277.33 1110 L281.44 1118.36 L284.85 1127.06 L287.52 1136.05 L289.45 1145.25 L290.61 1154.59Z" fill="url(#c1g)" opacity="0.9"/>
<g opacity="0.6"><g clip-path="url(#c1k)">
<path d="M126.25 849.6 L143 1097.5 L140 1103 C128 1115 122 1135 121.5 1160 L121.25 1289.8 L252.5 1289.8 L252.7 1160 C252 1135 246 1115 234 1103 L231.25 1097.5 L247.5 849.6 Z" fill="none" stroke="#85868c" stroke-width="1.6"/>
<path d="M167 849.6 L174.25 1289.8" stroke="#85868c" stroke-width="1.6" fill="none"/>
<path d="M207 849.6 L200.5 1289.8" stroke="#85868c" stroke-width="1.6" fill="none"/>
</g></g>
<defs><radialGradient id="c2g" gradientUnits="userSpaceOnUse" cx="433.5" cy="1116.6" r="105.04" fx="425.42" fy="1116.6" gradientTransform="translate(433.5 1116.6) scale(1 1.04) translate(-433.5 -1116.6)"><stop offset="0" stop-color="#efeff1"/><stop offset="0.4" stop-color="#e7e7ea"/><stop offset="0.6" stop-color="#dadbde"/><stop offset="0.76" stop-color="#cdced2"/><stop offset="0.88" stop-color="#c3c4c8"/><stop offset="0.96" stop-color="#b3b4b9"/><stop offset="1" stop-color="#a4a5ab"/></radialGradient><clipPath id="c2k"><path d="M534.5 1116.6 L534.12 1125.72 L532.97 1134.76 L531.06 1143.67 L528.41 1152.38 L525.04 1160.81 L520.97 1168.9 L516.23 1176.6 L510.87 1183.84 L504.92 1190.56 L498.42 1196.73 L491.43 1202.28 L484 1207.19 L476.18 1211.4 L468.04 1214.89 L459.64 1217.64 L451.04 1219.61 L442.3 1220.8 L433.5 1221.2 L424.7 1220.8 L415.96 1219.61 L407.36 1217.64 L398.96 1214.89 L390.82 1211.4 L383 1207.19 L375.57 1202.28 L368.58 1196.73 L362.08 1190.56 L356.13 1183.84 L350.77 1176.6 L346.03 1168.9 L341.96 1160.81 L338.59 1152.38 L335.94 1143.67 L334.03 1134.76 L332.88 1125.72 L332.5 1116.6 L332.88 1107.48 L334.03 1098.44 L335.94 1089.53 L338.59 1080.82 L341.96 1072.39 L346.03 1064.3 L350.77 1056.6 L356.13 1049.36 L362.08 1042.64 L368.58 1036.47 L375.57 1030.92 L383 1026.01 L390.82 1021.8 L398.96 1018.31 L407.36 1015.56 L415.96 1013.59 L424.7 1012.4 L433.5 1012 L442.3 1012.4 L451.04 1013.59 L459.64 1015.56 L468.04 1018.31 L476.18 1021.8 L484 1026.01 L491.43 1030.92 L498.42 1036.47 L504.92 1042.64 L510.87 1049.36 L516.23 1056.6 L520.97 1064.3 L525.04 1072.39 L528.41 1080.82 L531.06 1089.53 L532.97 1098.44 L534.12 1107.48Z"/></clipPath></defs>
<path d="M534.5 1116.6 L534.12 1125.72 L532.97 1134.76 L531.06 1143.67 L528.41 1152.38 L525.04 1160.81 L520.97 1168.9 L516.23 1176.6 L510.87 1183.84 L504.92 1190.56 L498.42 1196.73 L491.43 1202.28 L484 1207.19 L476.18 1211.4 L468.04 1214.89 L459.64 1217.64 L451.04 1219.61 L442.3 1220.8 L433.5 1221.2 L424.7 1220.8 L415.96 1219.61 L407.36 1217.64 L398.96 1214.89 L390.82 1211.4 L383 1207.19 L375.57 1202.28 L368.58 1196.73 L362.08 1190.56 L356.13 1183.84 L350.77 1176.6 L346.03 1168.9 L341.96 1160.81 L338.59 1152.38 L335.94 1143.67 L334.03 1134.76 L332.88 1125.72 L332.5 1116.6 L332.88 1107.48 L334.03 1098.44 L335.94 1089.53 L338.59 1080.82 L341.96 1072.39 L346.03 1064.3 L350.77 1056.6 L356.13 1049.36 L362.08 1042.64 L368.58 1036.47 L375.57 1030.92 L383 1026.01 L390.82 1021.8 L398.96 1018.31 L407.36 1015.56 L415.96 1013.59 L424.7 1012.4 L433.5 1012 L442.3 1012.4 L451.04 1013.59 L459.64 1015.56 L468.04 1018.31 L476.18 1021.8 L484 1026.01 L491.43 1030.92 L498.42 1036.47 L504.92 1042.64 L510.87 1049.36 L516.23 1056.6 L520.97 1064.3 L525.04 1072.39 L528.41 1080.82 L531.06 1089.53 L532.97 1098.44 L534.12 1107.48Z" fill="url(#c2g)" opacity="0.9"/>
<g opacity="0.6"><g clip-path="url(#c2k)">
<path d="M367.5 849.6 L382.5 1090 L380 1096 C366 1112 358 1140 357.5 1190 L363.75 1289.8 L493.75 1289.8 L502.5 1190 C502 1140 494 1112 479 1096 L476 1090 L487.5 849.6 Z" fill="none" stroke="#85868c" stroke-width="1.6"/>
<path d="M408.75 849.6 L415 1289.8" stroke="#85868c" stroke-width="1.6" fill="none"/>
<path d="M449.5 849.6 L442.5 1289.8" stroke="#85868c" stroke-width="1.6" fill="none"/>
</g></g>
<defs><radialGradient id="c3g" gradientUnits="userSpaceOnUse" cx="688" cy="1057" r="104.62" fx="679.95" fy="1057" gradientTransform="translate(688 1057) scale(1 1.06) translate(-688 -1057)"><stop offset="0" stop-color="#efeff1"/><stop offset="0.4" stop-color="#e7e7ea"/><stop offset="0.6" stop-color="#dadbde"/><stop offset="0.76" stop-color="#cdced2"/><stop offset="0.88" stop-color="#c3c4c8"/><stop offset="0.96" stop-color="#b3b4b9"/><stop offset="1" stop-color="#a4a5ab"/></radialGradient><clipPath id="c3k"><path d="M788.6 1057 L788.22 1066.33 L787.07 1075.58 L785.17 1084.69 L782.53 1093.6 L779.17 1102.22 L775.12 1110.5 L770.41 1118.37 L765.06 1125.78 L759.13 1132.66 L752.66 1138.97 L745.7 1144.65 L738.3 1149.66 L730.52 1153.97 L722.41 1157.55 L714.04 1160.35 L705.47 1162.37 L696.77 1163.59 L688 1164 L679.23 1163.59 L670.53 1162.37 L661.96 1160.35 L653.59 1157.55 L645.48 1153.97 L637.7 1149.66 L630.3 1144.65 L623.34 1138.97 L616.87 1132.66 L610.94 1125.78 L605.59 1118.37 L600.88 1110.5 L596.83 1102.22 L593.47 1093.6 L590.83 1084.69 L588.93 1075.58 L587.78 1066.33 L587.4 1057 L587.78 1047.67 L588.93 1038.42 L590.83 1029.31 L593.47 1020.4 L596.83 1011.78 L600.88 1003.5 L605.59 995.63 L610.94 988.22 L616.87 981.34 L623.34 975.03 L630.3 969.35 L637.7 964.34 L645.48 960.03 L653.59 956.45 L661.96 953.65 L670.53 951.63 L679.23 950.41 L688 950 L696.77 950.41 L705.47 951.63 L714.04 953.65 L722.41 956.45 L730.52 960.03 L738.3 964.34 L745.7 969.35 L752.66 975.03 L759.13 981.34 L765.06 988.22 L770.41 995.63 L775.12 1003.5 L779.17 1011.78 L782.53 1020.4 L785.17 1029.31 L787.07 1038.42 L788.22 1047.67Z"/></clipPath></defs>
<path d="M788.6 1057 L788.22 1066.33 L787.07 1075.58 L785.17 1084.69 L782.53 1093.6 L779.17 1102.22 L775.12 1110.5 L770.41 1118.37 L765.06 1125.78 L759.13 1132.66 L752.66 1138.97 L745.7 1144.65 L738.3 1149.66 L730.52 1153.97 L722.41 1157.55 L714.04 1160.35 L705.47 1162.37 L696.77 1163.59 L688 1164 L679.23 1163.59 L670.53 1162.37 L661.96 1160.35 L653.59 1157.55 L645.48 1153.97 L637.7 1149.66 L630.3 1144.65 L623.34 1138.97 L616.87 1132.66 L610.94 1125.78 L605.59 1118.37 L600.88 1110.5 L596.83 1102.22 L593.47 1093.6 L590.83 1084.69 L588.93 1075.58 L587.78 1066.33 L587.4 1057 L587.78 1047.67 L588.93 1038.42 L590.83 1029.31 L593.47 1020.4 L596.83 1011.78 L600.88 1003.5 L605.59 995.63 L610.94 988.22 L616.87 981.34 L623.34 975.03 L630.3 969.35 L637.7 964.34 L645.48 960.03 L653.59 956.45 L661.96 953.65 L670.53 951.63 L679.23 950.41 L688 950 L696.77 950.41 L705.47 951.63 L714.04 953.65 L722.41 956.45 L730.52 960.03 L738.3 964.34 L745.7 969.35 L752.66 975.03 L759.13 981.34 L765.06 988.22 L770.41 995.63 L775.12 1003.5 L779.17 1011.78 L782.53 1020.4 L785.17 1029.31 L787.07 1038.42 L788.22 1047.67Z" fill="url(#c3g)" opacity="0.9"/>
<g opacity="0.6"><g clip-path="url(#c3k)">
<path d="M611.25 849.6 L626.25 1100 L628.75 1104 C612 1118 599 1136 597.5 1157.5 L605 1289.8 L737 1289.8 L745 1155 C742 1134 730 1116 718.5 1104 L718.75 1100 L730 849.6 Z" fill="none" stroke="#85868c" stroke-width="1.6"/>
<path d="M651.25 849.6 L658 1289.8" stroke="#85868c" stroke-width="1.6" fill="none"/>
<path d="M691.25 849.6 L684.5 1289.8" stroke="#85868c" stroke-width="1.6" fill="none"/>
</g></g>
<defs><radialGradient id="c4g" gradientUnits="userSpaceOnUse" cx="911" cy="978" r="105.04" fx="902.92" fy="978" gradientTransform="translate(911 978) scale(1 1.05) translate(-911 -978)"><stop offset="0" stop-color="#efeff1"/><stop offset="0.4" stop-color="#e7e7ea"/><stop offset="0.6" stop-color="#dadbde"/><stop offset="0.76" stop-color="#cdced2"/><stop offset="0.88" stop-color="#c3c4c8"/><stop offset="0.96" stop-color="#b3b4b9"/><stop offset="1" stop-color="#a4a5ab"/></radialGradient><clipPath id="c4k"><path d="M1012 978 L1011.62 987.24 L1010.47 996.41 L1008.56 1005.43 L1005.91 1014.25 L1002.54 1022.8 L998.47 1031 L993.73 1038.8 L988.37 1046.14 L982.42 1052.95 L975.92 1059.2 L968.93 1064.83 L961.5 1069.8 L953.68 1074.07 L945.54 1077.61 L937.14 1080.39 L928.54 1082.39 L919.8 1083.6 L911 1084 L902.2 1083.6 L893.46 1082.39 L884.86 1080.39 L876.46 1077.61 L868.32 1074.07 L860.5 1069.8 L853.07 1064.83 L846.08 1059.2 L839.58 1052.95 L833.63 1046.14 L828.27 1038.8 L823.53 1031 L819.46 1022.8 L816.09 1014.25 L813.44 1005.43 L811.53 996.41 L810.38 987.24 L810 978 L810.38 968.76 L811.53 959.59 L813.44 950.57 L816.09 941.75 L819.46 933.2 L823.53 925 L828.27 917.2 L833.63 909.86 L839.58 903.05 L846.08 896.8 L853.07 891.17 L860.5 886.2 L868.32 881.93 L876.46 878.39 L884.86 875.61 L893.46 873.61 L902.2 872.4 L911 872 L919.8 872.4 L928.54 873.61 L937.14 875.61 L945.54 878.39 L953.68 881.93 L961.5 886.2 L968.93 891.17 L975.92 896.8 L982.42 903.05 L988.37 909.86 L993.73 917.2 L998.47 925 L1002.54 933.2 L1005.91 941.75 L1008.56 950.57 L1010.47 959.59 L1011.62 968.76Z"/></clipPath></defs>
<path d="M1012 978 L1011.62 987.24 L1010.47 996.41 L1008.56 1005.43 L1005.91 1014.25 L1002.54 1022.8 L998.47 1031 L993.73 1038.8 L988.37 1046.14 L982.42 1052.95 L975.92 1059.2 L968.93 1064.83 L961.5 1069.8 L953.68 1074.07 L945.54 1077.61 L937.14 1080.39 L928.54 1082.39 L919.8 1083.6 L911 1084 L902.2 1083.6 L893.46 1082.39 L884.86 1080.39 L876.46 1077.61 L868.32 1074.07 L860.5 1069.8 L853.07 1064.83 L846.08 1059.2 L839.58 1052.95 L833.63 1046.14 L828.27 1038.8 L823.53 1031 L819.46 1022.8 L816.09 1014.25 L813.44 1005.43 L811.53 996.41 L810.38 987.24 L810 978 L810.38 968.76 L811.53 959.59 L813.44 950.57 L816.09 941.75 L819.46 933.2 L823.53 925 L828.27 917.2 L833.63 909.86 L839.58 903.05 L846.08 896.8 L853.07 891.17 L860.5 886.2 L868.32 881.93 L876.46 878.39 L884.86 875.61 L893.46 873.61 L902.2 872.4 L911 872 L919.8 872.4 L928.54 873.61 L937.14 875.61 L945.54 878.39 L953.68 881.93 L961.5 886.2 L968.93 891.17 L975.92 896.8 L982.42 903.05 L988.37 909.86 L993.73 917.2 L998.47 925 L1002.54 933.2 L1005.91 941.75 L1008.56 950.57 L1010.47 959.59 L1011.62 968.76Z" fill="url(#c4g)" opacity="0.9"/>
<g opacity="0.6"><g clip-path="url(#c4k)">
<path d="M856.25 849.6 L872.5 1097.5 L874 1102.5 C858 1116 844 1134 842 1157.5 L851.25 1289.8 L981.25 1289.8 L989.5 1157.5 C987 1134 974 1116 958 1102.5 L958.75 1097.5 L976.25 849.6 Z" fill="none" stroke="#85868c" stroke-width="1.6"/>
<path d="M895.5 849.6 L902.5 1289.8" stroke="#85868c" stroke-width="1.6" fill="none"/>
<path d="M936.25 849.6 L929.5 1289.8" stroke="#85868c" stroke-width="1.6" fill="none"/>
</g></g>
<path d="M168.75 1105.5 L171.75 1226.25 C140 1215 125 1190 125 1162.5 C125 1138 142 1115 168.75 1105.5 Z" fill="none" stroke="#4a7cc8" stroke-width="1.1" stroke-linejoin="round"/>
<path d="M205.5 1103 L204.5 1223.75 C232 1214 248.75 1190 248.75 1162.5 C248.75 1135 230 1112 205.5 1103 Z" fill="none" stroke="#4a7cc8" stroke-width="1.1" stroke-linejoin="round"/>
<path d="M186 1122.5 C192 1121 200 1127 201 1134 C202 1140 200 1143 196 1142.5 C190 1142 182 1140 180 1134 C179 1128 181 1124 186 1122.5 Z" fill="none" stroke="#f0e848" stroke-width="1.4" stroke-linejoin="round"/>
<path d="M181 1192 C188 1189 198 1187 201 1189 C203 1193 198 1203 193 1207 C188 1209 182 1207 180 1201 C179 1197 179 1194 181 1192 Z" fill="none" stroke="#f0e848" stroke-width="1.4" stroke-linejoin="round"/>
<path d="M381.5 1082 L384 1098 L372 1112 L370 1106 C372 1096 376 1088 381.5 1082 Z" fill="none" stroke="#e8743a" stroke-width="1.1" stroke-linejoin="round"/>
<path d="M412 1068.5 L412 1170 C398 1168 385 1155 383 1135 C381 1118 392 1108 397 1098 C401 1088 398 1070 412 1068.5 Z" fill="none" stroke="#4a7cc8" stroke-width="1.1" stroke-linejoin="round"/>
<path d="M449.5 1062.5 L449.5 1172 C470 1166 480 1150 481 1132 C482 1115 470 1108 466 1098 C462 1085 466 1068 449.5 1062.5 Z" fill="none" stroke="#4a7cc8" stroke-width="1.1" stroke-linejoin="round"/>
<path d="M478 1068 L476.5 1098 L492 1115 C497 1105 497 1092 492 1082 C489 1076 484 1071 478 1068 Z" fill="none" stroke="#4a7cc8" stroke-width="1.1" stroke-linejoin="round"/>
<path d="M655 1019.5 L655 1103 C646 1092 640.5 1078 640.5 1060 C640.5 1040 646 1026 655 1019.5 Z" fill="none" stroke="#4a7cc8" stroke-width="1.1" stroke-linejoin="round"/>
<circle cx="678.25" cy="1034.5" r="6.8" fill="none" stroke="#f0e848" stroke-width="1.4"/>
<path d="M693 1002.5 L693 1115 L705 1113.75 C708 1112 710 1106 710 1102.5 C711 1090 716.25 1070 716.25 1057.5 L716.25 1025 C710 1015 702 1008 693 1002.5 Z" fill="none" stroke="#4a7cc8" stroke-width="1.1" stroke-linejoin="round"/>
<path d="M726.25 996.25 C738 1015 748 1040 752.5 1065 L752 1077.5 C748 1092 738 1104 728.75 1112 L720 1097.5 Z" fill="none" stroke="#e8743a" stroke-width="1.1" stroke-linejoin="round"/>
<path d="M857.5 933.75 L864.5 1024.5 C852 1012 844.5 995 844.5 975 C844.5 958 850 944 857.5 933.75 Z" fill="none" stroke="#e8743a" stroke-width="1.1" stroke-linejoin="round"/>
<path d="M897 918 L897 1033.75 C880 1028 868 1000 867.5 970 C868 945 880 926 897 918 Z" fill="none" stroke="#4a7cc8" stroke-width="1.1" stroke-linejoin="round"/>
<path d="M904 936 C910 934 928 934 932 938 C936 945 934.5 962 931 972 C928 985 930 1000 926 1008 C922 1013 914 1013 910 1008 C902 1000 903 985 903.5 972 C904 960 899 945 904 936 Z" fill="none" stroke="#f0e848" stroke-width="1.4" stroke-linejoin="round"/>
<path d="M938.75 910.5 L938.75 1025 C955 1010 966.25 985 966.25 960 C966.25 938 955 918 938.75 910.5 Z" fill="none" stroke="#4a7cc8" stroke-width="1.1" stroke-linejoin="round"/>
<path d="M973.75 938 L970 1004.5 C976 992 979.25 980 979.25 968 C979.25 956 977 946 973.75 938 Z" fill="none" stroke="#e8743a" stroke-width="1.1" stroke-linejoin="round"/>
</g>
<rect x="62.2" y="850.6" width="978.6" height="438.2" fill="none" stroke="#d8d8da" stroke-width="0.6"/>
<path d="M442.5 1205 L420.5 1122 M409.5 1138.75 L420 1120 L440 1131.25" fill="none" stroke="#5a8240" stroke-width="5" stroke-linejoin="miter"/>
<text x="391.5" y="888.3" font-size="39.4" text-anchor="start" fill="#000" >Crossing outer node</text>
<text x="211.5" y="990" font-size="39.4" text-anchor="start" fill="#e8282a" >Contact area</text>
<text x="365" y="1250" font-size="39.4" text-anchor="start" fill="#5a8240" >Disengage</text>
<text x="175.4" y="1342.3" font-size="39.4" text-anchor="middle" fill="#000" >0.90 s</text>
<text x="419.8" y="1342.3" font-size="39.4" text-anchor="middle" fill="#000" >0.95 s</text>
<text x="665" y="1342.3" font-size="39.4" text-anchor="middle" fill="#000" >1.00 s</text>
<text x="909.2" y="1342.3" font-size="39.4" text-anchor="middle" fill="#000" >1.05 s</text>
</g>
<g id="pd">
<text x="1033.4" y="812.2" font-size="40" text-anchor="start" fill="#000" >(d)</text>
<defs><clipPath id="dclip"><rect x="1078" y="847.5" width="995.2" height="445.1"/></clipPath></defs>
<rect x="1078" y="847.5" width="995.2" height="445.1" fill="#cccdd0"/>
<g clip-path="url(#dclip)">
<polygon points="1141.25,846.5 1286.25,846.5 1256.25,1293.6 1171.25,1293.6" fill="#fff"/>
<path d="M1141.25 846.5 L1171.25 1293.6 M1286.25 846.5 L1256.25 1293.6" fill="none" stroke="#9a9ba1" stroke-width="1.2"/>
<path d="M1207.5 846.5 L1214.5 1036.25 L1221.25 846.5" fill="none" stroke="#9a9ba1" stroke-width="1.2"/>
<path d="M1198 1293.6 L1193.75 1037 H1235 L1230.5 1293.6" fill="none" stroke="#9a9ba1" stroke-width="1.2"/>
<polygon points="1382.5,846.5 1526.25,846.5 1498.75,1293.6 1411.25,1293.6" fill="#fff"/>
<path d="M1382.5 846.5 L1411.25 1293.6 M1526.25 846.5 L1498.75 1293.6" fill="none" stroke="#9a9ba1" stroke-width="1.2"/>
<path d="M1448 846.5 L1454.4 1036.25 L1461.25 846.5" fill="none" stroke="#9a9ba1" stroke-width="1.2"/>
<path d="M1438.5 1293.6 L1434.5 1036.75 H1475.5 L1471 1293.6" fill="none" stroke="#9a9ba1" stroke-width="1.2"/>
<polygon points="1626.5,846.5 1770,846.5 1741.25,1293.6 1654,1293.6" fill="#fff"/>
<path d="M1626.5 846.5 L1654 1293.6 M1770 846.5 L1741.25 1293.6" fill="none" stroke="#9a9ba1" stroke-width="1.2"/>
<path d="M1691.25 846.5 L1698 1033.75 L1705.25 846.5" fill="none" stroke="#9a9ba1" stroke-width="1.2"/>
<path d="M1681.5 1293.6 L1675.75 1034.5 H1719.75 L1714 1293.6" fill="none" stroke="#9a9ba1" stroke-width="1.2"/>
<polygon points="1863.75,846.5 2008.75,846.5 1980,1293.6 1892.5,1293.6" fill="#fff"/>
<path d="M1863.75 846.5 L1892.5 1293.6 M2008.75 846.5 L1980 1293.6" fill="none" stroke="#9a9ba1" stroke-width="1.2"/>
<path d="M1930 846.5 L1936.5 1036.25 L1943.75 846.5" fill="none" stroke="#9a9ba1" stroke-width="1.2"/>
<path d="M1920 1293.6 L1915.75 1037 H1956.25 L1952.5 1293.6" fill="none" stroke="#9a9ba1" stroke-width="1.2"/>
<defs><radialGradient id="d1g" gradientUnits="userSpaceOnUse" cx="1205.6" cy="1148" r="104.62" fx="1197.55" fy="1148" gradientTransform="translate(1205.6 1148) scale(1 1.06) translate(-1205.6 -1148)"><stop offset="0" stop-color="#efeff1"/><stop offset="0.4" stop-color="#e7e7ea"/><stop offset="0.6" stop-color="#dadbde"/><stop offset="0.76" stop-color="#cdced2"/><stop offset="0.88" stop-color="#c3c4c8"/><stop offset="0.96" stop-color="#b3b4b9"/><stop offset="1" stop-color="#a4a5ab"/></radialGradient><clipPath id="d1k"><path d="M1306.2 1148 L1305.82 1157.33 L1304.67 1166.58 L1302.77 1175.69 L1300.13 1184.6 L1296.77 1193.22 L1292.72 1201.5 L1288.01 1209.37 L1282.66 1216.78 L1276.73 1223.66 L1270.26 1229.97 L1263.3 1235.65 L1255.9 1240.66 L1248.12 1244.97 L1240.01 1248.55 L1231.64 1251.35 L1223.07 1253.37 L1214.37 1254.59 L1205.6 1255 L1196.83 1254.59 L1188.13 1253.37 L1179.56 1251.35 L1171.19 1248.55 L1163.08 1244.97 L1155.3 1240.66 L1147.9 1235.65 L1140.94 1229.97 L1134.47 1223.66 L1128.54 1216.78 L1123.19 1209.37 L1118.48 1201.5 L1114.43 1193.22 L1111.07 1184.6 L1108.43 1175.69 L1106.53 1166.58 L1105.38 1157.33 L1105 1148 L1105.38 1138.67 L1106.53 1129.42 L1108.43 1120.31 L1111.07 1111.4 L1114.43 1102.78 L1118.48 1094.5 L1123.19 1086.63 L1128.54 1079.22 L1134.47 1072.34 L1140.94 1066.03 L1147.9 1060.35 L1155.3 1055.34 L1163.08 1051.03 L1171.19 1047.45 L1179.56 1044.65 L1188.13 1042.63 L1196.83 1041.41 L1205.6 1041 L1214.37 1041.41 L1223.07 1042.63 L1231.64 1044.65 L1240.01 1047.45 L1248.12 1051.03 L1255.9 1055.34 L1263.3 1060.35 L1270.26 1066.03 L1276.73 1072.34 L1282.66 1079.22 L1288.01 1086.63 L1292.72 1094.5 L1296.77 1102.78 L1300.13 1111.4 L1302.77 1120.31 L1304.67 1129.42 L1305.82 1138.67Z"/></clipPath></defs>
<path d="M1306.2 1148 L1305.82 1157.33 L1304.67 1166.58 L1302.77 1175.69 L1300.13 1184.6 L1296.77 1193.22 L1292.72 1201.5 L1288.01 1209.37 L1282.66 1216.78 L1276.73 1223.66 L1270.26 1229.97 L1263.3 1235.65 L1255.9 1240.66 L1248.12 1244.97 L1240.01 1248.55 L1231.64 1251.35 L1223.07 1253.37 L1214.37 1254.59 L1205.6 1255 L1196.83 1254.59 L1188.13 1253.37 L1179.56 1251.35 L1171.19 1248.55 L1163.08 1244.97 L1155.3 1240.66 L1147.9 1235.65 L1140.94 1229.97 L1134.47 1223.66 L1128.54 1216.78 L1123.19 1209.37 L1118.48 1201.5 L1114.43 1193.22 L1111.07 1184.6 L1108.43 1175.69 L1106.53 1166.58 L1105.38 1157.33 L1105 1148 L1105.38 1138.67 L1106.53 1129.42 L1108.43 1120.31 L1111.07 1111.4 L1114.43 1102.78 L1118.48 1094.5 L1123.19 1086.63 L1128.54 1079.22 L1134.47 1072.34 L1140.94 1066.03 L1147.9 1060.35 L1155.3 1055.34 L1163.08 1051.03 L1171.19 1047.45 L1179.56 1044.65 L1188.13 1042.63 L1196.83 1041.41 L1205.6 1041 L1214.37 1041.41 L1223.07 1042.63 L1231.64 1044.65 L1240.01 1047.45 L1248.12 1051.03 L1255.9 1055.34 L1263.3 1060.35 L1270.26 1066.03 L1276.73 1072.34 L1282.66 1079.22 L1288.01 1086.63 L1292.72 1094.5 L1296.77 1102.78 L1300.13 1111.4 L1302.77 1120.31 L1304.67 1129.42 L1305.82 1138.67Z" fill="url(#d1g)" opacity="0.9"/>
<g opacity="0.6"><g clip-path="url(#d1k)">
<path d="M1141.25 846.5 L1171.25 1293.6 M1286.25 846.5 L1256.25 1293.6" fill="none" stroke="#85868c" stroke-width="1.6"/>
<path d="M1207.5 846.5 L1214.5 1036.25 L1221.25 846.5" fill="none" stroke="#85868c" stroke-width="1.6"/>
<path d="M1198 1293.6 L1193.75 1037 H1235 L1230.5 1293.6" fill="none" stroke="#85868c" stroke-width="1.6"/>
</g></g>
<defs><radialGradient id="d2g" gradientUnits="userSpaceOnUse" cx="1454.4" cy="1083" r="103.38" fx="1446.45" fy="1083" gradientTransform="translate(1454.4 1083) scale(1 1.06) translate(-1454.4 -1083)"><stop offset="0" stop-color="#efeff1"/><stop offset="0.4" stop-color="#e7e7ea"/><stop offset="0.6" stop-color="#dadbde"/><stop offset="0.76" stop-color="#cdced2"/><stop offset="0.88" stop-color="#c3c4c8"/><stop offset="0.96" stop-color="#b3b4b9"/><stop offset="1" stop-color="#a4a5ab"/></radialGradient><clipPath id="d2k"><path d="M1553.8 1083 L1553.42 1092.2 L1552.29 1101.34 L1550.41 1110.33 L1547.81 1119.12 L1544.49 1127.63 L1540.48 1135.8 L1535.82 1143.57 L1530.54 1150.88 L1524.69 1157.67 L1518.29 1163.89 L1511.41 1169.5 L1504.1 1174.45 L1496.41 1178.71 L1488.4 1182.23 L1480.13 1185 L1471.66 1187 L1463.06 1188.2 L1454.4 1188.6 L1445.74 1188.2 L1437.14 1187 L1428.67 1185 L1420.4 1182.23 L1412.39 1178.71 L1404.7 1174.45 L1397.39 1169.5 L1390.51 1163.89 L1384.11 1157.67 L1378.26 1150.88 L1372.98 1143.57 L1368.32 1135.8 L1364.31 1127.63 L1360.99 1119.12 L1358.39 1110.33 L1356.51 1101.34 L1355.38 1092.2 L1355 1083 L1355.38 1073.8 L1356.51 1064.66 L1358.39 1055.67 L1360.99 1046.88 L1364.31 1038.37 L1368.32 1030.2 L1372.98 1022.43 L1378.26 1015.12 L1384.11 1008.33 L1390.51 1002.11 L1397.39 996.5 L1404.7 991.55 L1412.39 987.29 L1420.4 983.77 L1428.67 981 L1437.14 979 L1445.74 977.8 L1454.4 977.4 L1463.06 977.8 L1471.66 979 L1480.13 981 L1488.4 983.77 L1496.41 987.29 L1504.1 991.55 L1511.41 996.5 L1518.29 1002.11 L1524.69 1008.33 L1530.54 1015.12 L1535.82 1022.43 L1540.48 1030.2 L1544.49 1038.37 L1547.81 1046.88 L1550.41 1055.67 L1552.29 1064.66 L1553.42 1073.8Z"/></clipPath></defs>
<path d="M1553.8 1083 L1553.42 1092.2 L1552.29 1101.34 L1550.41 1110.33 L1547.81 1119.12 L1544.49 1127.63 L1540.48 1135.8 L1535.82 1143.57 L1530.54 1150.88 L1524.69 1157.67 L1518.29 1163.89 L1511.41 1169.5 L1504.1 1174.45 L1496.41 1178.71 L1488.4 1182.23 L1480.13 1185 L1471.66 1187 L1463.06 1188.2 L1454.4 1188.6 L1445.74 1188.2 L1437.14 1187 L1428.67 1185 L1420.4 1182.23 L1412.39 1178.71 L1404.7 1174.45 L1397.39 1169.5 L1390.51 1163.89 L1384.11 1157.67 L1378.26 1150.88 L1372.98 1143.57 L1368.32 1135.8 L1364.31 1127.63 L1360.99 1119.12 L1358.39 1110.33 L1356.51 1101.34 L1355.38 1092.2 L1355 1083 L1355.38 1073.8 L1356.51 1064.66 L1358.39 1055.67 L1360.99 1046.88 L1364.31 1038.37 L1368.32 1030.2 L1372.98 1022.43 L1378.26 1015.12 L1384.11 1008.33 L1390.51 1002.11 L1397.39 996.5 L1404.7 991.55 L1412.39 987.29 L1420.4 983.77 L1428.67 981 L1437.14 979 L1445.74 977.8 L1454.4 977.4 L1463.06 977.8 L1471.66 979 L1480.13 981 L1488.4 983.77 L1496.41 987.29 L1504.1 991.55 L1511.41 996.5 L1518.29 1002.11 L1524.69 1008.33 L1530.54 1015.12 L1535.82 1022.43 L1540.48 1030.2 L1544.49 1038.37 L1547.81 1046.88 L1550.41 1055.67 L1552.29 1064.66 L1553.42 1073.8Z" fill="url(#d2g)" opacity="0.9"/>
<g opacity="0.6"><g clip-path="url(#d2k)">
<path d="M1382.5 846.5 L1411.25 1293.6 M1526.25 846.5 L1498.75 1293.6" fill="none" stroke="#85868c" stroke-width="1.6"/>
<path d="M1448 846.5 L1454.4 1036.25 L1461.25 846.5" fill="none" stroke="#85868c" stroke-width="1.6"/>
<path d="M1438.5 1293.6 L1434.5 1036.75 H1475.5 L1471 1293.6" fill="none" stroke="#85868c" stroke-width="1.6"/>
</g></g>
<defs><radialGradient id="d3g" gradientUnits="userSpaceOnUse" cx="1710.6" cy="1044.75" r="104.62" fx="1702.55" fy="1044.75" gradientTransform="translate(1710.6 1044.75) scale(1 1.05) translate(-1710.6 -1044.75)"><stop offset="0" stop-color="#efeff1"/><stop offset="0.4" stop-color="#e7e7ea"/><stop offset="0.6" stop-color="#dadbde"/><stop offset="0.76" stop-color="#cdced2"/><stop offset="0.88" stop-color="#c3c4c8"/><stop offset="0.96" stop-color="#b3b4b9"/><stop offset="1" stop-color="#a4a5ab"/></radialGradient><clipPath id="d3k"><path d="M1811.2 1044.75 L1810.82 1053.92 L1809.67 1063.03 L1807.77 1071.99 L1805.13 1080.75 L1801.77 1089.23 L1797.72 1097.38 L1793.01 1105.12 L1787.66 1112.4 L1781.73 1119.17 L1775.26 1125.38 L1768.3 1130.97 L1760.9 1135.9 L1753.12 1140.14 L1745.01 1143.65 L1736.64 1146.41 L1728.07 1148.4 L1719.37 1149.6 L1710.6 1150 L1701.83 1149.6 L1693.13 1148.4 L1684.56 1146.41 L1676.19 1143.65 L1668.08 1140.14 L1660.3 1135.9 L1652.9 1130.97 L1645.94 1125.38 L1639.47 1119.17 L1633.54 1112.4 L1628.19 1105.12 L1623.48 1097.38 L1619.43 1089.23 L1616.07 1080.75 L1613.43 1071.99 L1611.53 1063.03 L1610.38 1053.92 L1610 1044.75 L1610.38 1035.58 L1611.53 1026.47 L1613.43 1017.51 L1616.07 1008.75 L1619.43 1000.27 L1623.48 992.12 L1628.19 984.38 L1633.54 977.1 L1639.47 970.33 L1645.94 964.12 L1652.9 958.53 L1660.3 953.6 L1668.08 949.36 L1676.19 945.85 L1684.56 943.09 L1693.13 941.1 L1701.83 939.9 L1710.6 939.5 L1719.37 939.9 L1728.07 941.1 L1736.64 943.09 L1745.01 945.85 L1753.12 949.36 L1760.9 953.6 L1768.3 958.53 L1775.26 964.12 L1781.73 970.33 L1787.66 977.1 L1793.01 984.38 L1797.72 992.12 L1801.77 1000.27 L1805.13 1008.75 L1807.77 1017.51 L1809.67 1026.47 L1810.82 1035.58Z"/></clipPath></defs>
<path d="M1811.2 1044.75 L1810.82 1053.92 L1809.67 1063.03 L1807.77 1071.99 L1805.13 1080.75 L1801.77 1089.23 L1797.72 1097.38 L1793.01 1105.12 L1787.66 1112.4 L1781.73 1119.17 L1775.26 1125.38 L1768.3 1130.97 L1760.9 1135.9 L1753.12 1140.14 L1745.01 1143.65 L1736.64 1146.41 L1728.07 1148.4 L1719.37 1149.6 L1710.6 1150 L1701.83 1149.6 L1693.13 1148.4 L1684.56 1146.41 L1676.19 1143.65 L1668.08 1140.14 L1660.3 1135.9 L1652.9 1130.97 L1645.94 1125.38 L1639.47 1119.17 L1633.54 1112.4 L1628.19 1105.12 L1623.48 1097.38 L1619.43 1089.23 L1616.07 1080.75 L1613.43 1071.99 L1611.53 1063.03 L1610.38 1053.92 L1610 1044.75 L1610.38 1035.58 L1611.53 1026.47 L1613.43 1017.51 L1616.07 1008.75 L1619.43 1000.27 L1623.48 992.12 L1628.19 984.38 L1633.54 977.1 L1639.47 970.33 L1645.94 964.12 L1652.9 958.53 L1660.3 953.6 L1668.08 949.36 L1676.19 945.85 L1684.56 943.09 L1693.13 941.1 L1701.83 939.9 L1710.6 939.5 L1719.37 939.9 L1728.07 941.1 L1736.64 943.09 L1745.01 945.85 L1753.12 949.36 L1760.9 953.6 L1768.3 958.53 L1775.26 964.12 L1781.73 970.33 L1787.66 977.1 L1793.01 984.38 L1797.72 992.12 L1801.77 1000.27 L1805.13 1008.75 L1807.77 1017.51 L1809.67 1026.47 L1810.82 1035.58Z" fill="url(#d3g)" opacity="0.9"/>
<g opacity="0.6"><g clip-path="url(#d3k)">
<path d="M1626.5 846.5 L1654 1293.6 M1770 846.5 L1741.25 1293.6" fill="none" stroke="#85868c" stroke-width="1.6"/>
<path d="M1691.25 846.5 L1698 1033.75 L1705.25 846.5" fill="none" stroke="#85868c" stroke-width="1.6"/>
<path d="M1681.5 1293.6 L1675.75 1034.5 H1719.75 L1714 1293.6" fill="none" stroke="#85868c" stroke-width="1.6"/>
</g></g>
<defs><radialGradient id="d4g" gradientUnits="userSpaceOnUse" cx="1944.4" cy="964.4" r="101.92" fx="1936.56" fy="964.4" gradientTransform="translate(1944.4 964.4) scale(1 1.07) translate(-1944.4 -964.4)"><stop offset="0" stop-color="#efeff1"/><stop offset="0.4" stop-color="#e7e7ea"/><stop offset="0.6" stop-color="#dadbde"/><stop offset="0.76" stop-color="#cdced2"/><stop offset="0.88" stop-color="#c3c4c8"/><stop offset="0.96" stop-color="#b3b4b9"/><stop offset="1" stop-color="#a4a5ab"/></radialGradient><clipPath id="d4k"><path d="M2042.4 964.4 L2042.03 973.5 L2040.91 982.53 L2039.06 991.42 L2036.49 1000.11 L2033.22 1008.52 L2029.27 1016.6 L2024.68 1024.28 L2019.47 1031.51 L2013.7 1038.22 L2007.39 1044.38 L2000.61 1049.92 L1993.4 1054.81 L1985.82 1059.02 L1977.92 1062.5 L1969.76 1065.24 L1961.42 1067.21 L1952.94 1068.4 L1944.4 1068.8 L1935.86 1068.4 L1927.38 1067.21 L1919.04 1065.24 L1910.88 1062.5 L1902.98 1059.02 L1895.4 1054.81 L1888.19 1049.92 L1881.41 1044.38 L1875.1 1038.22 L1869.33 1031.51 L1864.12 1024.28 L1859.53 1016.6 L1855.58 1008.52 L1852.31 1000.11 L1849.74 991.42 L1847.89 982.53 L1846.77 973.5 L1846.4 964.4 L1846.77 955.3 L1847.89 946.27 L1849.74 937.38 L1852.31 928.69 L1855.58 920.28 L1859.53 912.2 L1864.12 904.52 L1869.33 897.29 L1875.1 890.58 L1881.41 884.42 L1888.19 878.88 L1895.4 873.99 L1902.98 869.78 L1910.88 866.3 L1919.04 863.56 L1927.38 861.59 L1935.86 860.4 L1944.4 860 L1952.94 860.4 L1961.42 861.59 L1969.76 863.56 L1977.92 866.3 L1985.82 869.78 L1993.4 873.99 L2000.61 878.88 L2007.39 884.42 L2013.7 890.58 L2019.47 897.29 L2024.68 904.52 L2029.27 912.2 L2033.22 920.28 L2036.49 928.69 L2039.06 937.38 L2040.91 946.27 L2042.03 955.3Z"/></clipPath></defs>
<path d="M2042.4 964.4 L2042.03 973.5 L2040.91 982.53 L2039.06 991.42 L2036.49 1000.11 L2033.22 1008.52 L2029.27 1016.6 L2024.68 1024.28 L2019.47 1031.51 L2013.7 1038.22 L2007.39 1044.38 L2000.61 1049.92 L1993.4 1054.81 L1985.82 1059.02 L1977.92 1062.5 L1969.76 1065.24 L1961.42 1067.21 L1952.94 1068.4 L1944.4 1068.8 L1935.86 1068.4 L1927.38 1067.21 L1919.04 1065.24 L1910.88 1062.5 L1902.98 1059.02 L1895.4 1054.81 L1888.19 1049.92 L1881.41 1044.38 L1875.1 1038.22 L1869.33 1031.51 L1864.12 1024.28 L1859.53 1016.6 L1855.58 1008.52 L1852.31 1000.11 L1849.74 991.42 L1847.89 982.53 L1846.77 973.5 L1846.4 964.4 L1846.77 955.3 L1847.89 946.27 L1849.74 937.38 L1852.31 928.69 L1855.58 920.28 L1859.53 912.2 L1864.12 904.52 L1869.33 897.29 L1875.1 890.58 L1881.41 884.42 L1888.19 878.88 L1895.4 873.99 L1902.98 869.78 L1910.88 866.3 L1919.04 863.56 L1927.38 861.59 L1935.86 860.4 L1944.4 860 L1952.94 860.4 L1961.42 861.59 L1969.76 863.56 L1977.92 866.3 L1985.82 869.78 L1993.4 873.99 L2000.61 878.88 L2007.39 884.42 L2013.7 890.58 L2019.47 897.29 L2024.68 904.52 L2029.27 912.2 L2033.22 920.28 L2036.49 928.69 L2039.06 937.38 L2040.91 946.27 L2042.03 955.3Z" fill="url(#d4g)" opacity="0.9"/>
<g opacity="0.6"><g clip-path="url(#d4k)">
<path d="M1863.75 846.5 L1892.5 1293.6 M2008.75 846.5 L1980 1293.6" fill="none" stroke="#85868c" stroke-width="1.6"/>
<path d="M1930 846.5 L1936.5 1036.25 L1943.75 846.5" fill="none" stroke="#85868c" stroke-width="1.6"/>
<path d="M1920 1293.6 L1915.75 1037 H1956.25 L1952.5 1293.6" fill="none" stroke="#85868c" stroke-width="1.6"/>
</g></g>
<path d="M1158.75 1106.25 L1161.25 1203.75 C1148 1188 1141.25 1170 1141.25 1152 C1141.25 1134 1148 1118 1158.75 1106.25 Z" fill="none" stroke="#e8743a" stroke-width="1.1" stroke-linejoin="round"/>
<path d="M1193.25 1095 L1196.75 1212.5 L1187.5 1212 C1176 1208 1168 1198 1167.5 1190 L1163.75 1117.5 C1170 1105 1182 1098 1193.25 1095 Z" fill="none" stroke="#4a7cc8" stroke-width="1.1" stroke-linejoin="round"/>
<rect x="1200" y="1108.75" width="32" height="92" rx="13" ry="13" fill="none" stroke="#f0e848" stroke-width="1.5"/>
<path d="M1239.5 1102.5 L1236.75 1208.75 C1244 1206 1250 1196 1254 1186 C1258 1176 1259.25 1164 1259.25 1152.5 C1259.25 1134 1250 1116 1239.5 1102.5 Z" fill="none" stroke="#4a7cc8" stroke-width="1.1" stroke-linejoin="round"/>
<path d="M1273.75 1140 L1273 1167.5 C1276.5 1162 1278 1157 1278 1153 C1278 1148 1276 1143 1273.75 1140 Z" fill="none" stroke="#e8743a" stroke-width="1.1" stroke-linejoin="round"/>
<path d="M1397 1058.75 L1399.25 1124.25 C1392 1114 1388 1102 1388 1091 C1388 1079 1392 1067 1397 1058.75 Z" fill="none" stroke="#e8743a" stroke-width="1.1" stroke-linejoin="round"/>
<path d="M1432.5 1030 L1432.5 1147.5 L1425 1147 C1412 1140 1403 1125 1402.5 1110 L1402.5 1065 C1406 1048 1418 1036 1432.5 1030 Z" fill="none" stroke="#4a7cc8" stroke-width="1.1" stroke-linejoin="round"/>
<path d="M1437 1050 Q1437 1042 1445 1042 L1464 1042 Q1471.75 1042 1471.75 1050 L1471.75 1128 Q1471.75 1140 1454 1140 Q1437 1140 1437 1128 Z" fill="none" stroke="#f0e848" stroke-width="1.5"/>
<path d="M1477 1026.25 L1477 1144.5 C1492 1140 1506.25 1112 1506.25 1080 C1506.25 1052 1494 1030 1477 1026.25 Z" fill="none" stroke="#4a7cc8" stroke-width="1.1" stroke-linejoin="round"/>
<path d="M1516.25 1073 L1513 1116.25 C1517.5 1108 1520 1100 1520 1093 C1520 1085 1518.5 1078 1516.25 1073 Z" fill="none" stroke="#e8743a" stroke-width="1.1" stroke-linejoin="round"/>
<path d="M1694.5 996.25 C1668 1000 1650.5 1022 1650.5 1047.5 C1650.5 1072 1660 1092 1675.75 1104.5 L1675.75 1034.5 L1697 1034.5 Z" fill="none" stroke="#4a7cc8" stroke-width="1.1" stroke-linejoin="round"/>
<path d="M1700.5 994.5 C1705 992.5 1710 992 1715 992 C1736 993 1750 1008 1756.25 1025 L1755 1065 C1753 1078 1750 1088 1745 1097.5 C1738 1105 1728 1109 1718.75 1110.75 L1719.5 1034.5 L1699.5 1034.5 Z" fill="none" stroke="#4a7cc8" stroke-width="1.1" stroke-linejoin="round"/>
<path d="M1679.5 1039.5 L1717 1039.5 L1717 1085 Q1717 1097.5 1698 1097.5 Q1679.5 1097.5 1679.5 1085 Z" fill="none" stroke="#f0e848" stroke-width="1.5"/>
<path d="M1761.25 1008.75 L1755.75 1097.5 C1764 1082 1768.25 1066 1768.25 1050 C1768.25 1034 1765 1020 1761.25 1008.75 Z" fill="none" stroke="#e8743a" stroke-width="1.1" stroke-linejoin="round"/>
<path d="M1929.5 911.25 L1929.5 1025 C1905 1018 1887 995 1887 965 C1887 938 1905 917 1929.5 911.25 Z" fill="none" stroke="#4a7cc8" stroke-width="1.1" stroke-linejoin="round"/>
<path d="M1933.75 947.5 L1938.75 947.5 L1936 1025 L1934 1025 Z" fill="none" stroke="#f0e848" stroke-width="1.4" stroke-linejoin="round"/>
<path d="M1942.5 904.5 L1955 905.5 C1968 908 1980 912 1990 917.5 C1995 924 1998 932 1998 940 L1998 970 C1996 984 1991 997 1985 1007.5 C1976 1017 1966 1024 1955 1027.5 L1940 1028.75 Z" fill="none" stroke="#4a7cc8" stroke-width="1.1" stroke-linejoin="round"/>
<path d="M2001.75 943.75 L2002.5 998.75 C2005.5 990 2006.75 980 2006.75 971 C2006.75 961 2005 951 2001.75 943.75 Z" fill="none" stroke="#e8743a" stroke-width="1.1" stroke-linejoin="round"/>
</g>
<rect x="1078" y="847.5" width="995.2" height="445.1" fill="none" stroke="#d8d8da" stroke-width="0.6"/>
<text x="1451.5" y="892.5" font-size="39.4" text-anchor="start" fill="#000" >Crossing inner end</text>
<text x="1571.5" y="1198" font-size="39.4" text-anchor="start" fill="#e8282a" >Contact area</text>
<text x="1211.9" y="1342.7" font-size="39.4" text-anchor="middle" fill="#000" >1.19 s</text>
<text x="1455" y="1342.7" font-size="39.4" text-anchor="middle" fill="#000" >1.22 s</text>
<text x="1699" y="1342.7" font-size="39.4" text-anchor="middle" fill="#000" >1.25 s</text>
<text x="1942.3" y="1342.7" font-size="39.4" text-anchor="middle" fill="#000" >1.28 s</text>
</g>
<g id="pe">
<text x="-3" y="1399.7" font-size="40" text-anchor="start" fill="#000" >(e)</text>
<rect x="384.5" y="1434.5" width="177.5" height="655.75" fill="#f0c0a8"/>
<circle cx="195.75" cy="1935.75" r="18.7" fill="#555659"/>
<circle cx="226.75" cy="1865.25" r="18.7" fill="#555659"/>
<circle cx="283.25" cy="1865.25" r="18.7" fill="#555659"/>
<circle cx="246.25" cy="1775.25" r="18.7" fill="#555659"/>
<circle cx="303.75" cy="1790.25" r="18.7" fill="#555659"/>
<circle cx="335" cy="1673" r="18.7" fill="#555659"/>
<circle cx="373" cy="1736" r="18.7" fill="#555659"/>
<circle cx="398" cy="1619.5" r="18.7" fill="#555659"/>
<circle cx="428.25" cy="1513.25" r="18.7" fill="#555659"/>
<circle cx="458" cy="1629.5" r="18.7" fill="#555659"/>
<circle cx="476.25" cy="1700" r="18.7" fill="#555659"/>
<circle cx="519.5" cy="1688.75" r="18.7" fill="#555659"/>
<circle cx="540" cy="1790" r="18.7" fill="#555659"/>
<circle cx="590" cy="1765" r="18.7" fill="#555659"/>
<circle cx="631.75" cy="1729.5" r="18.7" fill="#555659"/>
<circle cx="670.25" cy="1798" r="18.7" fill="#555659"/>
<circle cx="697.5" cy="1728.25" r="18.7" fill="#555659"/>
<circle cx="747.5" cy="1758" r="18.7" fill="#555659"/>
<circle cx="770.6" cy="1653.25" r="18.7" fill="#555659"/>
<circle cx="813" cy="1676.75" r="18.7" fill="#555659"/>
<circle cx="836.25" cy="1600" r="18.7" fill="#555659"/>
<circle cx="878.75" cy="1692" r="18.7" fill="#555659"/>
<circle cx="911.75" cy="1658" r="18.7" fill="#555659"/>
<circle cx="948.75" cy="1719.25" r="18.7" fill="#555659"/>
<path d="M689 1435.5 V2090.25" stroke="#efa98a" stroke-width="4" stroke-dasharray="8 4.5" fill="none"/>
<path d="M185 2061.5 L189.73 2045.69 L194.47 2029.1 L199.2 2012.03 L203.93 1994.79 L208.66 1977.67 L213.4 1960.98 L218.13 1945.03 L222.86 1930.1 L227.59 1916.13 L232.33 1902.78 L237.06 1889.73 L241.79 1876.65 L246.53 1863.2 L251.26 1849.16 L255.99 1834.68 L260.72 1819.98 L265.46 1805.27 L270.19 1790.78 L274.92 1776.73 L279.65 1763.26 L284.39 1750.2 L289.12 1737.29 L293.85 1724.27 L298.58 1710.89 L303.32 1697.1 L308.05 1683.34 L312.78 1670.1 L317.52 1657.82 L322.25 1646.55 L326.98 1636.19 L331.71 1626.63 L336.45 1617.73 L341.18 1609.41 L345.91 1601.53 L350.64 1593.99 L355.38 1586.7 L360.11 1579.68 L364.84 1572.94 L369.58 1566.52 L374.31 1560.42 L379.04 1554.69 L383.77 1549.32 L388.51 1544.37 L393.24 1539.83 L397.97 1535.76 L402.7 1532.17 L407.44 1529.09 L412.17 1526.56 L416.9 1524.59 L421.64 1523.23 L426.37 1522.49 L431.1 1522.4 L435.83 1522.98 L440.57 1524.24 L445.3 1526.19 L450.03 1528.85 L454.76 1532.22 L459.5 1536.31 L464.23 1541.14 L468.96 1546.73 L473.69 1553.1 L478.43 1560.32 L483.16 1568.41 L487.89 1577.42 L492.63 1587.4 L497.36 1598.4 L502.09 1610.46 L506.82 1623.5 L511.56 1637.31 L516.29 1651.69 L521.02 1666.43 L525.75 1681.32 L530.49 1696.13 L535.22 1710.66 L539.95 1724.7 L544.69 1738.09 L549.42 1750.68 L554.15 1762.34 L558.88 1772.96 L563.62 1782.39 L568.35 1790.5 L573.08 1797.18 L577.81 1802.44 L582.55 1806.38 L587.28 1809.09 L592.01 1810.68 L596.75 1811.25 L601.48 1810.89 L606.21 1809.67 L610.94 1807.63 L615.68 1804.81 L620.41 1801.26 L625.14 1797.02 L629.87 1792.14 L634.61 1786.67 L639.34 1780.69 L644.07 1774.3 L648.81 1767.59 L653.54 1760.66 L658.27 1753.6 L663 1746.5 L667.74 1739.46 L672.47 1732.58 L677.2 1725.97 L681.93 1719.72 L686.67 1713.93 L691.4 1708.7 L696.13 1703.91 L700.86 1699.25 L705.6 1694.36 L710.33 1689 L715.06 1683.23 L719.8 1677.16 L724.53 1670.9 L729.26 1664.54 L733.99 1658.2 L738.73 1651.98 L743.46 1645.99 L748.19 1640.34 L752.92 1635.12 L757.66 1630.45 L762.39 1626.37 L767.12 1622.89 L771.86 1620 L776.59 1617.72 L781.32 1616.03 L786.05 1614.94 L790.79 1614.46 L795.52 1614.58 L800.25 1615.29 L804.98 1616.57 L809.72 1618.4 L814.45 1620.79 L819.18 1623.71 L823.92 1627.14 L828.65 1631.08 L833.38 1635.48 L838.11 1640.3 L842.85 1645.49 L847.58 1651 L852.31 1656.8 L857.04 1662.82 L861.78 1669.04 L866.51 1675.39 L871.24 1681.86 L875.97 1688.43 L880.71 1695.07 L885.44 1701.77 L890.17 1708.5 L894.91 1715.25 L899.64 1721.99 L904.37 1728.7 L909.1 1735.37 L913.84 1741.96 L918.57 1748.48 L923.3 1754.88 L928.03 1761.16 L932.77 1767.29 L937.5 1773.25" fill="none" stroke="#6aa84f" stroke-width="3.2" stroke-linejoin="round" stroke-linecap="butt"/>
<circle cx="730.5" cy="1465.5" r="19.3" fill="#555659"/>
<text x="767" y="1478.8" font-size="39.4" text-anchor="start" fill="#000" >Experiment</text>
<path d="M706.25 1541.75 H760" stroke="#6aa84f" stroke-width="3.2"/>
<text x="767" y="1551.6" font-size="39.4" text-anchor="start" fill="#000" >Simulation</text>
<polygon points="253.75,1997.75 493,1985.25 493,2051.5 253.75,2039" fill="#7b7c81"/>
<polygon points="536.25,1996 674.5,1989 674.5,2047.75 536.25,2041" fill="#7b7c81"/>
<polygon points="253.75,2011.5 493,2008.5 536.25,2007.75 658.75,2006.5 658.75,2031.5 536.25,2030.25 493,2029.5 253.75,2026.5" fill="#b6b7bb"/>
<path d="M493 1985.25 Q520 1987 536.25 1996 V2041 Q520 2050 493 2051.5 Z" fill="#7b7c81"/>
<polygon points="493,2008.5 536.25,2007.75 536.25,2030.25 493,2029.5" fill="#b6b7bb"/>
<path d="M493 1985.25 Q520 1987 536.25 1996 V2041 Q520 2050 493 2051.5 Z" fill="none" stroke="#000" stroke-width="2.6" stroke-linejoin="miter"/>
<path d="M660 1990 V2046" stroke="#efa98a" stroke-width="2" stroke-dasharray="4.5 3" fill="none"/>
<text x="424" y="1933.2" font-size="39.4" text-anchor="start" fill="#000" >Node</text>
<path d="M471.25 1945.25 L500 1974 M499.25 1961.5 L500 1974 L487.5 1974" fill="none" stroke="#000" stroke-width="1.8"/>
<text x="713.5" y="1942.8" font-size="39.4" text-anchor="start" fill="#eda885" >End</text>
<path d="M680.5 1952.75 L657.5 1981 M656.25 1968 L657.5 1981 L670.5 1978.5" fill="none" stroke="#eda885" stroke-width="1.8"/>
<rect x="128.75" y="1434.5" width="866.75" height="655.75" fill="none" stroke="#000" stroke-width="3.3"/>
<path d="M128.75 1505 H144" stroke="#000" stroke-width="3.2"/>
<text x="112.5" y="1518.2" font-size="39.4" text-anchor="end" fill="#000" >60</text>
<path d="M128.75 1687 H144" stroke="#000" stroke-width="3.2"/>
<text x="112.5" y="1700.2" font-size="39.4" text-anchor="end" fill="#000" >50</text>
<path d="M128.75 1869 H144" stroke="#000" stroke-width="3.2"/>
<text x="112.5" y="1882.2" font-size="39.4" text-anchor="end" fill="#000" >40</text>
<path d="M128.75 2051 H144" stroke="#000" stroke-width="3.2"/>
<text x="112.5" y="2064.2" font-size="39.4" text-anchor="end" fill="#000" >30</text>
<text x="181.25" y="2136.6" font-size="39.4" text-anchor="middle" fill="#000" >25</text>
<text x="332.5" y="2136.6" font-size="39.4" text-anchor="middle" fill="#000" >30</text>
<text x="483.75" y="2136.6" font-size="39.4" text-anchor="middle" fill="#000" >35</text>
<text x="635" y="2136.6" font-size="39.4" text-anchor="middle" fill="#000" >40</text>
<text x="786.25" y="2136.6" font-size="39.4" text-anchor="middle" fill="#000" >45</text>
<text x="937.5" y="2136.6" font-size="39.4" text-anchor="middle" fill="#000" >50</text>
<text x="394" y="2185.3" font-size="39.4" text-anchor="start" fill="#000" >Displacement/mm</text>
<text transform="translate(40 1767) rotate(-90)" font-size="39.4" text-anchor="middle">Velocity/(mm·s<tspan font-size="23" dy="-13.5" fill="#2a1a16">−1</tspan><tspan dy="13.5">)</tspan></text>
</g>
<g id="pf">
<text x="1039" y="1399.5" font-size="40" text-anchor="start" fill="#000" >(f)</text>
<rect x="1219.5" y="1429.3" width="296.1" height="660.2" fill="#aecde4"/>
<rect x="1515.6" y="1429.3" width="285.2" height="660.2" fill="#d3d4d6"/>
<rect x="1800.8" y="1429.3" width="275.2" height="660.2" fill="#f8ddd0"/>
<path d="M1285 1462.5 L1285 1582" stroke="#c06030" stroke-width="3" stroke-dasharray="34 7" fill="none"/>
<path d="M1565.75 1541.25 L1565.75 1705" stroke="#c06030" stroke-width="3" stroke-dasharray="34 7" fill="none"/>
<path d="M1848 1596.2 L1848 1736.2" stroke="#c06030" stroke-width="3" stroke-dasharray="34 7" fill="none"/>
<path d="M1355.75 1505.75 L1355.75 1669.25" stroke="#5b8240" stroke-width="3" stroke-dasharray="34 7" fill="none"/>
<path d="M1643.25 1588 L1643.25 1752" stroke="#5b8240" stroke-width="3" stroke-dasharray="34 7" fill="none"/>
<path d="M1926.4 1629 L1926.4 1772.8" stroke="#5b8240" stroke-width="3" stroke-dasharray="34 7" fill="none"/>
<path d="M1432 1678 L1432 1755" stroke="#6c419b" stroke-width="3" stroke-dasharray="34 7" fill="none"/>
<path d="M1718 1697.5 L1718 1755" stroke="#6c419b" stroke-width="3" stroke-dasharray="34 7" fill="none"/>
<path d="M1999.7 1716.8 L1999.7 1793.1" stroke="#6c419b" stroke-width="3" stroke-dasharray="34 7" fill="none"/>
<path d="M1285 1582 L1566.75 1541.25" stroke="#c06030" stroke-width="3" stroke-dasharray="34 8" fill="none"/>
<path d="M1565.75 1705 L1844.6 1596.2" stroke="#c06030" stroke-width="3" stroke-dasharray="34 8" fill="none"/>
<path d="M1355.75 1669.25 L1642.5 1588" stroke="#5b8240" stroke-width="3" stroke-dasharray="34 8" fill="none"/>
<path d="M1643.25 1752 L1926.4 1629" stroke="#5b8240" stroke-width="3" stroke-dasharray="34 8" fill="none"/>
<path d="M1432 1755 L1718 1697.5" stroke="#6c419b" stroke-width="3" stroke-dasharray="34 8" fill="none"/>
<path d="M1718 1755 L2000 1716.8" stroke="#6c419b" stroke-width="3" stroke-dasharray="34 8" fill="none"/>
<rect x="1270.75" y="1449.25" width="30" height="26.5" fill="#c06030"/>
<rect x="1551.75" y="1528" width="30" height="26.5" fill="#c06030"/>
<rect x="1829.6" y="1582.95" width="30" height="26.5" fill="#c06030"/>
<polygon points="1265,1582 1285,1562.5 1305,1582 1285,1601.5" fill="#c06030"/>
<polygon points="1545.75,1705 1565.75,1685.5 1585.75,1705 1565.75,1724.5" fill="#c06030"/>
<polygon points="1828,1736.2 1848,1716.7 1868,1736.2 1848,1755.7" fill="#c06030"/>
<ellipse cx="1355.75" cy="1505.75" rx="15.5" ry="10.7" fill="#5b8240"/>
<ellipse cx="1642.5" cy="1588" rx="15.5" ry="10.7" fill="#5b8240"/>
<ellipse cx="1926.4" cy="1629" rx="15.5" ry="10.7" fill="#5b8240"/>
<ellipse cx="1355.75" cy="1669.25" rx="11.9" ry="14.3" fill="#5b8240"/>
<ellipse cx="1643.25" cy="1752" rx="11.9" ry="14.3" fill="#5b8240"/>
<ellipse cx="1926.4" cy="1772.8" rx="11.9" ry="14.3" fill="#5b8240"/>
<polygon points="1416.75,1678 1425.25,1664 1442.25,1664 1450.75,1678 1442.25,1692 1425.25,1692" fill="#6c419b"/>
<polygon points="1701,1697.5 1709.5,1683.5 1726.5,1683.5 1735,1697.5 1726.5,1711.5 1709.5,1711.5" fill="#6c419b"/>
<polygon points="1983,1716.8 1991.5,1702.8 2008.5,1702.8 2017,1716.8 2008.5,1730.8 1991.5,1730.8" fill="#6c419b"/>
<polygon points="1432,1738.8 1446.6,1746.9 1446.6,1763.1 1432,1771.2 1417.4,1763.1 1417.4,1746.9" fill="#6c419b"/>
<polygon points="1718,1738.8 1732.6,1746.9 1732.6,1763.1 1718,1771.2 1703.4,1763.1 1703.4,1746.9" fill="#6c419b"/>
<polygon points="1999.7,1776.9 2014.3,1785 2014.3,1801.2 1999.7,1809.3 1985.1,1801.2 1985.1,1785" fill="#6c419b"/>
<text x="1312.5" y="1472.5" font-size="36.5">V<tspan font-size="22" dx="1" dy="9.3">pre-1</tspan></text>
<text x="1241.5" y="1637" font-size="36.5">V<tspan font-size="22" dx="0.5" dy="9.3">post-1</tspan></text>
<path d="M1725.75 1453 H1754.25 M1775.75 1453 H1804.75 M1826.5 1453 H1832.8" stroke="#c06030" stroke-width="4" stroke-linecap="round" fill="none"/>
<rect x="1842.3" y="1436" width="76.2" height="34.5" fill="#c06030" stroke="#000" stroke-width="2.2"/>
<text x="1932.5" y="1468.3" font-size="39.4" text-anchor="start" fill="#000" >0.4 mL</text>
<path d="M1725.75 1499.4 H1754.25 M1775.75 1499.4 H1804.75 M1826.5 1499.4 H1832.8" stroke="#5b8240" stroke-width="4" stroke-linecap="round" fill="none"/>
<rect x="1842.3" y="1482.9" width="76.2" height="34.5" fill="#5b8240" stroke="#000" stroke-width="2.2"/>
<text x="1932.5" y="1515.2" font-size="39.4" text-anchor="start" fill="#000" >0.6 mL</text>
<path d="M1725.75 1545.7 H1754.25 M1775.75 1545.7 H1804.75 M1826.5 1545.7 H1832.8" stroke="#6c419b" stroke-width="4" stroke-linecap="round" fill="none"/>
<rect x="1842.3" y="1529.8" width="76.2" height="34.5" fill="#6c419b" stroke="#000" stroke-width="2.2"/>
<text x="1932.5" y="1562.1" font-size="39.4" text-anchor="start" fill="#000" >0.8 mL</text>
<rect x="1254.5" y="1899.25" width="76.1" height="190.25" fill="#c06030" stroke="#000" stroke-width="2"/>
<rect x="1330.6" y="1920" width="76.1" height="169.5" fill="#5b8240" stroke="#000" stroke-width="2"/>
<rect x="1406.7" y="2007.03" width="76.1" height="82.47" fill="#6c419b" stroke="#000" stroke-width="2"/>
<rect x="1538.6" y="1875.27" width="76.1" height="214.23" fill="#c06030" stroke="#000" stroke-width="2"/>
<rect x="1614.7" y="1920" width="76.1" height="169.5" fill="#5b8240" stroke="#000" stroke-width="2"/>
<rect x="1690.8" y="2027.67" width="76.1" height="61.83" fill="#6c419b" stroke="#000" stroke-width="2"/>
<rect x="1823" y="1888.59" width="76.1" height="200.91" fill="#c06030" stroke="#000" stroke-width="2"/>
<rect x="1899.1" y="1941.09" width="76.1" height="148.41" fill="#5b8240" stroke="#000" stroke-width="2"/>
<rect x="1975.2" y="2008.91" width="76.1" height="80.59" fill="#6c419b" stroke="#000" stroke-width="2"/>
<path d="M1219.5 1818.8 V1429.3 H2076 V1818.8" fill="none" stroke="#000" stroke-width="3.3"/>
<path d="M1214.5 1818.8 H2077.65" stroke="#000" stroke-width="4.2"/>
<path d="M1219.5 2089.5 V1828.3 H2076 V2092.5" fill="none" stroke="#000" stroke-width="3.3"/>
<path d="M1203.75 2089.5 H2077.65" stroke="#000" stroke-width="4"/>
<path d="M1204.5 1470 H1219.5" stroke="#000" stroke-width="3.3"/>
<text x="1193.5" y="1483.3" font-size="39.4" text-anchor="end" fill="#000" >60</text>
<path d="M1204.5 1575.5 H1219.5" stroke="#000" stroke-width="3.3"/>
<text x="1193.5" y="1588.8" font-size="39.4" text-anchor="end" fill="#000" >50</text>
<path d="M1204.5 1680.8 H1219.5" stroke="#000" stroke-width="3.3"/>
<text x="1193.5" y="1694.1" font-size="39.4" text-anchor="end" fill="#000" >40</text>
<path d="M1204.5 1786.2 H1219.5" stroke="#000" stroke-width="3.3"/>
<text x="1193.5" y="1799.5" font-size="39.4" text-anchor="end" fill="#000" >30</text>
<path d="M1203.75 1868 H1219.5" stroke="#000" stroke-width="3.3"/>
<text x="1193.5" y="1881.3" font-size="39.4" text-anchor="end" fill="#000" >20</text>
<path d="M1203.75 1979.5 H1219.5" stroke="#000" stroke-width="3.3"/>
<text x="1193.5" y="1992.8" font-size="39.4" text-anchor="end" fill="#000" >10</text>
<text x="1193.5" y="2102.8" font-size="39.4" text-anchor="end" fill="#000" >0</text>
<path d="M1368.8 2089.5 V2102.5" stroke="#000" stroke-width="3.3"/>
<text x="1365.3" y="2140.8" font-size="39.4" text-anchor="middle" fill="#000" >1</text>
<path d="M1652.2 2089.5 V2102.5" stroke="#000" stroke-width="3.3"/>
<text x="1648.7" y="2140.8" font-size="39.4" text-anchor="middle" fill="#000" >2</text>
<path d="M1936.8 2089.5 V2102.5" stroke="#000" stroke-width="3.3"/>
<text x="1933.3" y="2140.8" font-size="39.4" text-anchor="middle" fill="#000" >3</text>
<text x="1650.3" y="2189.3" font-size="39.4" text-anchor="middle" fill="#000" >Node</text>
<text transform="translate(1108.5 1623) rotate(-90)" font-size="39.4" text-anchor="middle">Velocity/(mm·s<tspan font-size="23" dy="-13.5" fill="#2a1a16">−1</tspan><tspan dy="13.5">)</tspan></text>
<text transform="translate(1108.5 1959) rotate(-90)" font-size="39.4" text-anchor="middle"><tspan font-weight="normal" font-size="36">Δ</tspan><tspan font-style="italic">V</tspan>/(mm·s<tspan font-size="23" dy="-13.5" fill="#2a1a16">−1</tspan><tspan dy="13.5">)</tspan></text>
</g>
</svg>
</body></html>
